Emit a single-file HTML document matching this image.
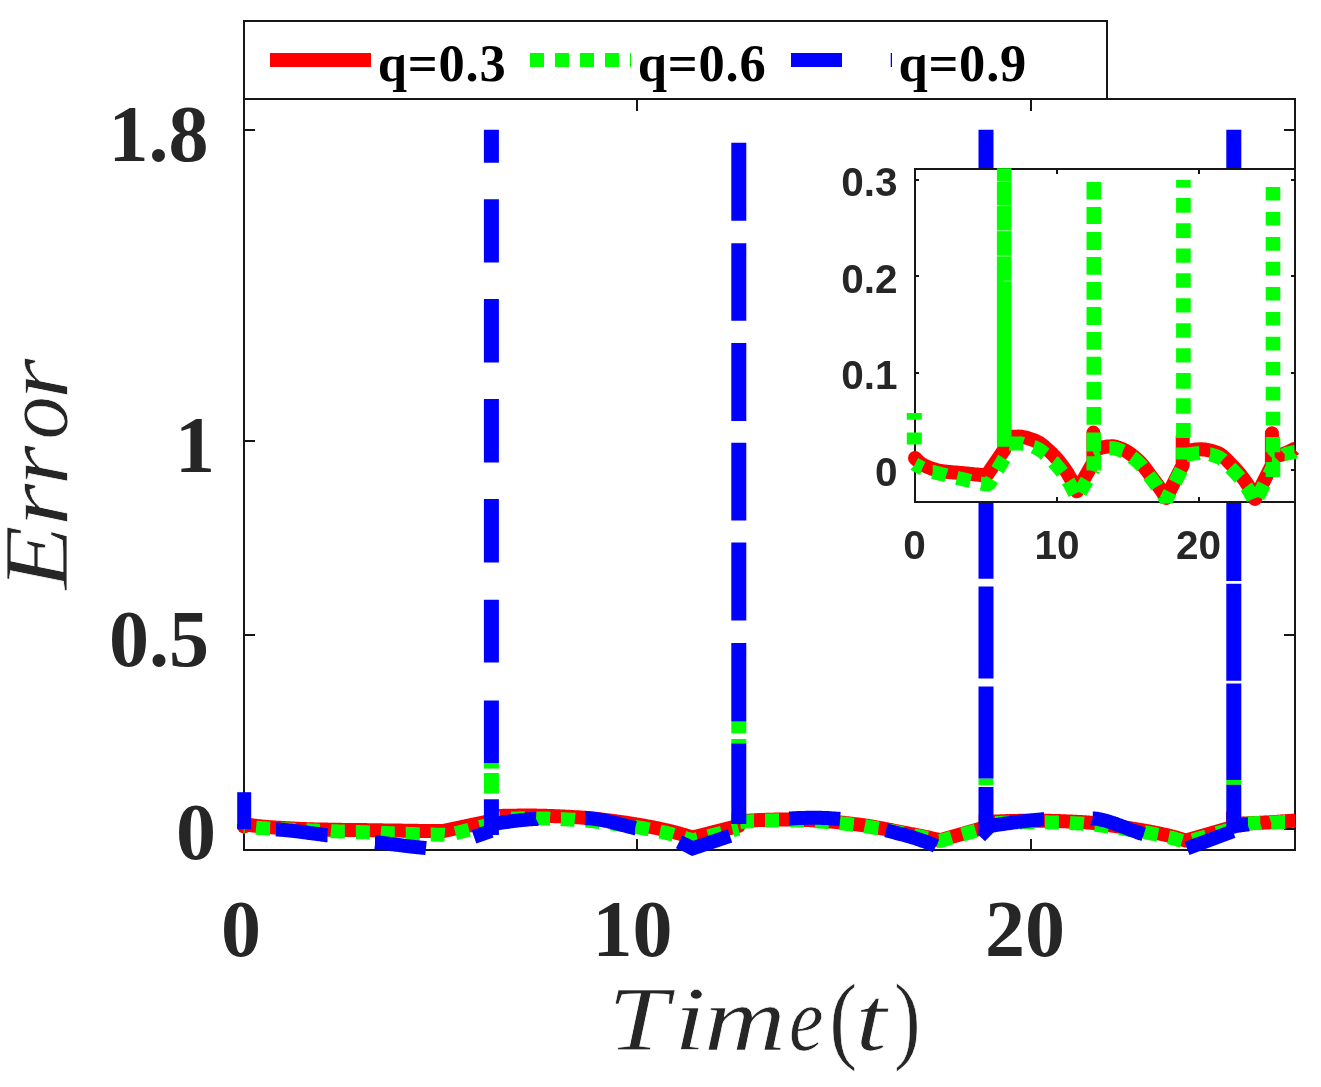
<!DOCTYPE html>
<html><head><meta charset="utf-8"><title>Error vs Time</title>
<style>html,body{margin:0;padding:0;background:#fff}svg{display:block}</style></head>
<body>
<svg width="1321" height="1087" viewBox="0 0 1321 1087">
<rect width="1321" height="1087" fill="#fff"/>
<rect x="244" y="99" width="1051.0" height="751.0" fill="none" stroke="#161616" stroke-width="2" shape-rendering="crispEdges"/>
<path d="M637,850 v-11 M637,99 v12 M1031,850 v-11 M1031,99 v12 M244,829 h11 M1295,829 h-11 M244,635 h11 M1295,635 h-11 M244,441 h11 M1295,441 h-11 M244,130 h11 M1295,130 h-11" stroke="#161616" stroke-width="2" fill="none" shape-rendering="crispEdges"/>
<g fill="none" stroke-linejoin="round">
<path d="M244.0,824.2 L245.0,824.3 L246.0,824.5 L247.0,824.6 L248.0,824.8 L249.0,824.9 L250.0,825.1 L251.0,825.2 L252.0,825.3 L253.0,825.5 L254.0,825.6 L255.0,825.7 L256.0,825.9 L257.0,826.0 L258.0,826.1 L259.0,826.2 L260.0,826.3 L261.0,826.4 L262.0,826.5 L263.0,826.6 L264.0,826.7 L265.0,826.8 L266.0,826.9 L267.0,827.0 L268.0,827.0 L269.0,827.1 L270.0,827.2 L271.0,827.3 L272.0,827.3 L273.0,827.4 L274.0,827.5 L275.0,827.5 L276.0,827.6 L277.0,827.7 L278.0,827.7 L279.0,827.8 L279.9,827.8 L280.9,827.9 L281.9,828.0 L282.9,828.0 L283.9,828.1 L284.9,828.1 L285.9,828.2 L286.9,828.2 L287.9,828.3 L288.9,828.3 L289.9,828.4 L290.9,828.4 L291.9,828.5 L292.9,828.5 L293.9,828.6 L294.9,828.6 L295.9,828.7 L296.9,828.7 L297.9,828.8 L298.9,828.8 L299.9,828.9 L300.9,828.9 L301.9,829.0 L302.9,829.0 L303.9,829.0 L304.9,829.1 L305.9,829.1 L306.9,829.2 L307.9,829.2 L308.9,829.2 L309.9,829.3 L310.9,829.3 L311.9,829.3 L312.9,829.3 L313.9,829.4 L314.9,829.4 L315.9,829.4 L316.9,829.4 L317.9,829.5 L318.9,829.5 L319.9,829.5 L320.9,829.5 L321.9,829.5 L322.9,829.6 L323.9,829.6 L324.9,829.6 L325.9,829.6 L326.9,829.6 L327.9,829.6 L328.9,829.7 L329.9,829.7 L330.9,829.7 L331.9,829.7 L332.9,829.7 L333.9,829.7 L334.9,829.8 L335.9,829.8 L336.9,829.8 L337.9,829.8 L338.9,829.8 L339.9,829.8 L340.9,829.8 L341.9,829.9 L342.9,829.9 L343.9,829.9 L344.9,829.9 L345.9,829.9 L346.9,829.9 L347.9,829.9 L348.9,829.9 L349.8,830.0 L350.8,830.0 L351.8,830.0 L352.8,830.0 L353.8,830.0 L354.8,830.0 L355.8,830.0 L356.8,830.0 L357.8,830.0 L358.8,830.1 L359.8,830.1 L360.8,830.1 L361.8,830.1 L362.8,830.1 L363.8,830.1 L364.8,830.1 L365.8,830.1 L366.8,830.1 L367.8,830.2 L368.8,830.2 L369.8,830.2 L370.8,830.2 L371.8,830.2 L372.8,830.2 L373.8,830.2 L374.8,830.2 L375.8,830.3 L376.8,830.3 L377.8,830.3 L378.8,830.3 L379.8,830.3 L380.8,830.3 L381.8,830.3 L382.8,830.4 L383.8,830.4 L384.8,830.4 L385.8,830.4 L386.8,830.4 L387.8,830.4 L388.8,830.4 L389.8,830.5 L390.8,830.5 L391.8,830.5 L392.8,830.5 L393.8,830.5 L394.8,830.5 L395.8,830.5 L396.8,830.6 L397.8,830.6 L398.8,830.6 L399.8,830.6 L400.8,830.6 L401.8,830.6 L402.8,830.7 L403.8,830.7 L404.8,830.7 L405.8,830.7 L406.8,830.7 L407.8,830.7 L408.8,830.7 L409.8,830.8 L410.8,830.8 L411.8,830.8 L412.8,830.8 L413.8,830.8 L414.8,830.8 L415.8,830.8 L416.8,830.8 L417.8,830.9 L418.8,830.9 L419.8,830.9 L420.7,830.9 L421.7,830.9 L422.7,830.9 L423.7,830.9 L424.7,830.9 L425.7,830.9 L426.7,831.0 L427.7,831.0 L428.7,831.0 L429.7,831.0 L430.7,831.0 L431.7,831.0 L432.7,831.0 L433.7,831.0 L434.7,831.0 L435.7,831.0 L436.7,831.1 L437.7,831.1 L438.7,831.1 L439.7,831.1 L440.7,831.1 L441.7,831.1 L442.7,831.1 L491.2,820.8 L491.2,812.3 L491.2,816.2 L492.3,816.1 L493.3,816.1 L494.3,816.1 L495.3,816.0 L496.3,816.0 L497.3,816.0 L498.3,816.0 L499.3,815.9 L500.3,815.9 L501.4,815.9 L502.4,815.9 L503.4,815.8 L504.4,815.8 L505.4,815.8 L506.4,815.8 L507.4,815.8 L508.4,815.7 L509.5,815.7 L510.5,815.7 L511.5,815.7 L512.5,815.7 L513.5,815.7 L514.5,815.7 L515.5,815.7 L516.5,815.7 L517.5,815.6 L518.6,815.6 L519.6,815.6 L520.6,815.6 L521.6,815.6 L522.6,815.6 L523.6,815.6 L524.6,815.6 L525.6,815.6 L526.7,815.6 L527.7,815.6 L528.7,815.6 L529.7,815.6 L530.7,815.6 L531.7,815.6 L532.7,815.6 L533.7,815.6 L534.8,815.6 L535.8,815.6 L536.8,815.6 L537.8,815.7 L538.8,815.7 L539.8,815.7 L540.8,815.7 L541.8,815.7 L542.8,815.7 L543.9,815.8 L544.9,815.8 L545.9,815.8 L546.9,815.9 L547.9,815.9 L548.9,815.9 L549.9,816.0 L550.9,816.0 L552.0,816.0 L553.0,816.1 L554.0,816.1 L555.0,816.2 L556.0,816.2 L557.0,816.2 L558.0,816.3 L559.0,816.3 L560.0,816.4 L561.1,816.4 L562.1,816.5 L563.1,816.5 L564.1,816.6 L565.1,816.6 L566.1,816.7 L567.1,816.7 L568.1,816.8 L569.2,816.8 L570.2,816.9 L571.2,816.9 L572.2,817.0 L573.2,817.1 L574.2,817.1 L575.2,817.2 L576.2,817.2 L577.2,817.3 L578.3,817.3 L579.3,817.4 L580.3,817.5 L581.3,817.5 L582.3,817.6 L583.3,817.7 L584.3,817.7 L585.3,817.8 L586.4,817.9 L587.4,818.0 L588.4,818.1 L589.4,818.2 L590.4,818.3 L591.4,818.4 L592.4,818.5 L593.4,818.6 L594.4,818.7 L595.5,818.8 L596.5,818.9 L597.5,819.0 L598.5,819.2 L599.5,819.3 L600.5,819.4 L601.5,819.5 L602.5,819.6 L603.6,819.8 L604.6,819.9 L605.6,820.0 L606.6,820.1 L607.6,820.3 L608.6,820.4 L609.6,820.5 L610.6,820.7 L611.6,820.8 L612.7,820.9 L613.7,821.1 L614.7,821.2 L615.7,821.3 L616.7,821.5 L617.7,821.6 L618.7,821.7 L619.7,821.9 L620.8,822.0 L621.8,822.2 L622.8,822.3 L623.8,822.4 L624.8,822.6 L625.8,822.7 L626.8,822.9 L627.8,823.0 L628.8,823.2 L629.9,823.3 L630.9,823.5 L631.9,823.7 L632.9,823.8 L633.9,824.0 L634.9,824.2 L635.9,824.3 L636.9,824.5 L638.0,824.7 L639.0,824.8 L640.0,825.0 L641.0,825.2 L642.0,825.4 L643.0,825.5 L644.0,825.7 L645.0,825.9 L646.0,826.1 L647.1,826.3 L648.1,826.5 L649.1,826.7 L650.1,826.8 L651.1,827.0 L652.1,827.2 L653.1,827.4 L654.1,827.6 L655.2,827.8 L656.2,828.0 L657.2,828.2 L658.2,828.4 L659.2,828.6 L660.2,828.9 L661.2,829.1 L662.2,829.3 L663.2,829.5 L664.3,829.8 L665.3,830.0 L666.3,830.2 L667.3,830.5 L668.3,830.7 L669.3,831.0 L670.3,831.2 L671.3,831.5 L672.4,831.7 L673.4,832.0 L674.4,832.2 L675.4,832.5 L676.4,832.8 L677.4,833.0 L678.4,833.3 L679.4,833.6 L680.4,833.9 L681.5,834.1 L682.5,834.4 L683.5,834.7 L684.5,835.0 L685.5,835.3 L686.5,835.6 L687.5,835.9 L688.5,836.3 L689.6,836.6 L690.6,836.9 L691.6,837.2 L692.6,837.5 L738.5,825.9 L738.5,814.0 L738.5,821.4 L739.5,821.3 L740.5,821.3 L741.5,821.2 L742.5,821.1 L743.6,821.0 L744.6,820.9 L745.6,820.9 L746.6,820.8 L747.6,820.7 L748.6,820.7 L749.6,820.6 L750.6,820.5 L751.7,820.5 L752.7,820.4 L753.7,820.4 L754.7,820.3 L755.7,820.2 L756.7,820.2 L757.7,820.1 L758.7,820.1 L759.8,820.1 L760.8,820.0 L761.8,820.0 L762.8,819.9 L763.8,819.9 L764.8,819.9 L765.8,819.8 L766.9,819.8 L767.9,819.8 L768.9,819.7 L769.9,819.7 L770.9,819.7 L771.9,819.7 L772.9,819.7 L773.9,819.6 L775.0,819.6 L776.0,819.6 L777.0,819.6 L778.0,819.6 L779.0,819.6 L780.0,819.5 L781.0,819.5 L782.1,819.5 L783.1,819.5 L784.1,819.5 L785.1,819.5 L786.1,819.5 L787.1,819.5 L788.1,819.5 L789.1,819.5 L790.2,819.5 L791.2,819.5 L792.2,819.5 L793.2,819.5 L794.2,819.5 L795.2,819.5 L796.2,819.6 L797.2,819.6 L798.3,819.6 L799.3,819.6 L800.3,819.7 L801.3,819.7 L802.3,819.8 L803.3,819.8 L804.3,819.9 L805.4,819.9 L806.4,820.0 L807.4,820.0 L808.4,820.1 L809.4,820.1 L810.4,820.2 L811.4,820.2 L812.4,820.3 L813.5,820.4 L814.5,820.4 L815.5,820.5 L816.5,820.5 L817.5,820.6 L818.5,820.6 L819.5,820.7 L820.6,820.8 L821.6,820.8 L822.6,820.9 L823.6,821.0 L824.6,821.1 L825.6,821.1 L826.6,821.2 L827.6,821.3 L828.7,821.4 L829.7,821.5 L830.7,821.5 L831.7,821.6 L832.7,821.7 L833.7,821.8 L834.7,821.9 L835.7,822.0 L836.8,822.1 L837.8,822.2 L838.8,822.3 L839.8,822.4 L840.8,822.5 L841.8,822.6 L842.8,822.7 L843.9,822.9 L844.9,823.0 L845.9,823.1 L846.9,823.2 L847.9,823.3 L848.9,823.4 L849.9,823.6 L850.9,823.7 L852.0,823.8 L853.0,823.9 L854.0,824.0 L855.0,824.2 L856.0,824.3 L857.0,824.4 L858.0,824.5 L859.1,824.7 L860.1,824.8 L861.1,824.9 L862.1,825.1 L863.1,825.2 L864.1,825.3 L865.1,825.5 L866.1,825.6 L867.2,825.8 L868.2,825.9 L869.2,826.1 L870.2,826.3 L871.2,826.4 L872.2,826.6 L873.2,826.8 L874.2,826.9 L875.3,827.1 L876.3,827.3 L877.3,827.5 L878.3,827.7 L879.3,827.9 L880.3,828.1 L881.3,828.2 L882.4,828.4 L883.4,828.6 L884.4,828.8 L885.4,829.0 L886.4,829.2 L887.4,829.4 L888.4,829.6 L889.4,829.8 L890.5,830.0 L891.5,830.2 L892.5,830.4 L893.5,830.6 L894.5,830.8 L895.5,831.0 L896.5,831.2 L897.5,831.4 L898.6,831.6 L899.6,831.8 L900.6,832.0 L901.6,832.2 L902.6,832.4 L903.6,832.6 L904.6,832.8 L905.7,833.0 L906.7,833.2 L907.7,833.4 L908.7,833.6 L909.7,833.8 L910.7,834.0 L911.7,834.2 L912.7,834.3 L913.8,834.5 L914.8,834.7 L915.8,834.9 L916.8,835.1 L917.8,835.3 L918.8,835.5 L919.8,835.7 L920.9,836.0 L921.9,836.2 L922.9,836.4 L923.9,836.6 L924.9,836.8 L925.9,837.0 L926.9,837.2 L927.9,837.5 L929.0,837.7 L930.0,837.9 L931.0,838.1 L932.0,838.4 L933.0,838.6 L934.0,838.8 L935.0,839.1 L936.0,839.3 L937.1,839.5 L938.1,839.8 L939.1,840.0 L940.1,840.3 L985.7,827.1 L985.7,815.8 L985.7,822.0 L986.7,822.0 L987.7,821.9 L988.7,821.8 L989.8,821.8 L990.8,821.7 L991.8,821.7 L992.8,821.6 L993.8,821.6 L994.8,821.6 L995.8,821.5 L996.8,821.5 L997.8,821.4 L998.8,821.4 L999.8,821.4 L1000.8,821.3 L1001.8,821.3 L1002.8,821.2 L1003.8,821.2 L1004.9,821.2 L1005.9,821.1 L1006.9,821.1 L1007.9,821.1 L1008.9,821.1 L1009.9,821.0 L1010.9,821.0 L1011.9,821.0 L1012.9,821.0 L1013.9,820.9 L1014.9,820.9 L1015.9,820.9 L1016.9,820.9 L1017.9,820.9 L1018.9,820.8 L1020.0,820.8 L1021.0,820.8 L1022.0,820.8 L1023.0,820.8 L1024.0,820.8 L1025.0,820.8 L1026.0,820.7 L1027.0,820.7 L1028.0,820.7 L1029.0,820.7 L1030.0,820.7 L1031.0,820.7 L1032.0,820.7 L1033.0,820.7 L1034.0,820.7 L1035.1,820.7 L1036.1,820.7 L1037.1,820.7 L1038.1,820.7 L1039.1,820.7 L1040.1,820.7 L1041.1,820.7 L1042.1,820.7 L1043.1,820.7 L1044.1,820.7 L1045.1,820.7 L1046.1,820.8 L1047.1,820.8 L1048.1,820.8 L1049.1,820.8 L1050.2,820.8 L1051.2,820.9 L1052.2,820.9 L1053.2,820.9 L1054.2,820.9 L1055.2,821.0 L1056.2,821.0 L1057.2,821.0 L1058.2,821.1 L1059.2,821.1 L1060.2,821.1 L1061.2,821.2 L1062.2,821.2 L1063.2,821.2 L1064.2,821.3 L1065.2,821.3 L1066.3,821.4 L1067.3,821.4 L1068.3,821.4 L1069.3,821.5 L1070.3,821.5 L1071.3,821.6 L1072.3,821.6 L1073.3,821.7 L1074.3,821.7 L1075.3,821.8 L1076.3,821.8 L1077.3,821.9 L1078.3,821.9 L1079.3,821.9 L1080.3,822.0 L1081.4,822.0 L1082.4,822.1 L1083.4,822.2 L1084.4,822.2 L1085.4,822.3 L1086.4,822.4 L1087.4,822.5 L1088.4,822.6 L1089.4,822.6 L1090.4,822.7 L1091.4,822.8 L1092.4,822.9 L1093.4,823.0 L1094.4,823.2 L1095.4,823.3 L1096.5,823.4 L1097.5,823.5 L1098.5,823.6 L1099.5,823.8 L1100.5,823.9 L1101.5,824.0 L1102.5,824.2 L1103.5,824.3 L1104.5,824.4 L1105.5,824.6 L1106.5,824.7 L1107.5,824.9 L1108.5,825.0 L1109.5,825.2 L1110.5,825.3 L1111.6,825.5 L1112.6,825.6 L1113.6,825.8 L1114.6,825.9 L1115.6,826.1 L1116.6,826.2 L1117.6,826.4 L1118.6,826.5 L1119.6,826.7 L1120.6,826.8 L1121.6,827.0 L1122.6,827.1 L1123.6,827.3 L1124.6,827.4 L1125.6,827.6 L1126.7,827.7 L1127.7,827.9 L1128.7,828.0 L1129.7,828.2 L1130.7,828.4 L1131.7,828.5 L1132.7,828.7 L1133.7,828.8 L1134.7,829.0 L1135.7,829.2 L1136.7,829.3 L1137.7,829.5 L1138.7,829.7 L1139.7,829.8 L1140.7,830.0 L1141.7,830.2 L1142.8,830.3 L1143.8,830.5 L1144.8,830.7 L1145.8,830.9 L1146.8,831.1 L1147.8,831.3 L1148.8,831.4 L1149.8,831.6 L1150.8,831.8 L1151.8,832.0 L1152.8,832.2 L1153.8,832.4 L1154.8,832.6 L1155.8,832.8 L1156.8,833.0 L1157.9,833.2 L1158.9,833.4 L1159.9,833.6 L1160.9,833.8 L1161.9,834.1 L1162.9,834.3 L1163.9,834.5 L1164.9,834.7 L1165.9,835.0 L1166.9,835.2 L1167.9,835.4 L1168.9,835.6 L1169.9,835.9 L1170.9,836.1 L1171.9,836.4 L1173.0,836.7 L1174.0,836.9 L1175.0,837.2 L1176.0,837.5 L1177.0,837.8 L1178.0,838.1 L1179.0,838.4 L1180.0,838.7 L1181.0,839.0 L1182.0,839.4 L1183.0,839.7 L1184.0,840.0 L1185.0,840.3 L1186.0,840.6 L1233.0,827.1 L1233.0,814.2 L1233.0,823.8 L1233.3,823.8 L1233.6,823.7 L1233.9,823.7 L1234.2,823.7 L1234.5,823.7 L1234.8,823.7 L1235.2,823.7 L1235.5,823.7 L1235.8,823.7 L1236.1,823.7 L1236.4,823.7 L1236.7,823.7 L1237.0,823.7 L1237.3,823.7 L1237.6,823.6 L1238.0,823.6 L1238.3,823.6 L1238.6,823.6 L1238.9,823.6 L1239.2,823.6 L1239.5,823.6 L1239.8,823.6 L1240.1,823.6 L1240.5,823.6 L1240.8,823.6 L1241.1,823.5 L1241.4,823.5 L1241.7,823.5 L1242.0,823.5 L1242.3,823.5 L1242.6,823.5 L1242.9,823.5 L1243.3,823.5 L1243.6,823.5 L1243.9,823.5 L1244.2,823.4 L1244.5,823.4 L1244.8,823.4 L1245.1,823.4 L1245.4,823.4 L1245.8,823.4 L1246.1,823.4 L1246.4,823.4 L1246.7,823.4 L1247.0,823.4 L1247.3,823.3 L1247.6,823.3 L1247.9,823.3 L1248.2,823.3 L1248.6,823.3 L1248.9,823.3 L1249.2,823.3 L1249.5,823.3 L1249.8,823.2 L1250.1,823.2 L1250.4,823.2 L1250.7,823.2 L1251.1,823.2 L1251.4,823.2 L1251.7,823.2 L1252.0,823.2 L1252.3,823.2 L1252.6,823.1 L1252.9,823.1 L1253.2,823.1 L1253.5,823.1 L1253.9,823.1 L1254.2,823.1 L1254.5,823.1 L1254.8,823.1 L1255.1,823.0 L1255.4,823.0 L1255.7,823.0 L1256.0,823.0 L1256.4,823.0 L1256.7,823.0 L1257.0,823.0 L1257.3,822.9 L1257.6,822.9 L1257.9,822.9 L1258.2,822.9 L1258.5,822.9 L1258.8,822.9 L1259.2,822.9 L1259.5,822.8 L1259.8,822.8 L1260.1,822.8 L1260.4,822.8 L1260.7,822.8 L1261.0,822.8 L1261.3,822.8 L1261.6,822.7 L1262.0,822.7 L1262.3,822.7 L1262.6,822.7 L1262.9,822.7 L1263.2,822.7 L1263.5,822.7 L1263.8,822.6 L1264.1,822.6 L1264.5,822.6 L1264.8,822.6 L1265.1,822.6 L1265.4,822.6 L1265.7,822.5 L1266.0,822.5 L1266.3,822.5 L1266.6,822.5 L1266.9,822.5 L1267.3,822.5 L1267.6,822.4 L1267.9,822.4 L1268.2,822.4 L1268.5,822.4 L1268.8,822.4 L1269.1,822.4 L1269.4,822.3 L1269.8,822.3 L1270.1,822.3 L1270.4,822.3 L1270.7,822.3 L1271.0,822.3 L1271.3,822.2 L1271.6,822.2 L1271.9,822.2 L1272.2,822.2 L1272.6,822.2 L1272.9,822.1 L1273.2,822.1 L1273.5,822.1 L1273.8,822.1 L1274.1,822.1 L1274.4,822.0 L1274.7,822.0 L1275.1,822.0 L1275.4,822.0 L1275.7,822.0 L1276.0,821.9 L1276.3,821.9 L1276.6,821.9 L1276.9,821.9 L1277.2,821.9 L1277.5,821.8 L1277.9,821.8 L1278.2,821.8 L1278.5,821.8 L1278.8,821.8 L1279.1,821.7 L1279.4,821.7 L1279.7,821.7 L1280.0,821.7 L1280.4,821.7 L1280.7,821.6 L1281.0,821.6 L1281.3,821.6 L1281.6,821.6 L1281.9,821.6 L1282.2,821.5 L1282.5,821.5 L1282.8,821.5 L1283.2,821.5 L1283.5,821.4 L1283.8,821.4 L1284.1,821.4 L1284.4,821.4 L1284.7,821.4 L1285.0,821.3 L1285.3,821.3 L1285.6,821.3 L1286.0,821.3 L1286.3,821.2 L1286.6,821.2 L1286.9,821.2 L1287.2,821.2 L1287.5,821.2 L1287.8,821.1 L1288.1,821.1 L1288.5,821.1 L1288.8,821.1 L1289.1,821.0 L1289.4,821.0 L1289.7,821.0 L1290.0,821.0 L1290.3,820.9 L1290.6,820.9 L1290.9,820.9 L1291.3,820.9 L1291.6,820.8 L1291.9,820.8 L1292.2,820.8 L1292.5,820.8 L1292.8,820.7 L1293.1,820.7 L1293.4,820.7 L1293.8,820.7 L1294.1,820.6 L1294.4,820.6 L1294.7,820.6 L1295.0,820.6" stroke="#ff0000" stroke-width="14"/>
<circle cx="244" cy="826.5" r="7" fill="#ff0000" stroke="none"/>
<path d="M244.0,826.7 L245.0,826.8 L246.1,826.9 L247.1,826.9 L248.1,827.0 L249.1,827.1 L250.2,827.2 L251.2,827.3 L252.2,827.4 L253.3,827.5 L254.3,827.6 L255.3,827.6 L256.3,827.7 L257.4,827.8 L258.4,827.9 L259.4,828.0 L260.5,828.0 L261.5,828.1 L262.5,828.2 L263.5,828.3 L264.6,828.3 L265.6,828.4 L266.6,828.5 L267.6,828.5 L268.7,828.6 L269.7,828.7 L270.7,828.7 L271.8,828.8 L272.8,828.9 L273.8,828.9 L274.8,829.0 L275.9,829.0 L276.9,829.1 L277.9,829.1 L279.0,829.2 L280.0,829.2 L281.0,829.3 L282.0,829.3 L283.1,829.4 L284.1,829.4 L285.1,829.5 L286.2,829.5 L287.2,829.5 L288.2,829.6 L289.2,829.6 L290.3,829.7 L291.3,829.7 L292.3,829.7 L293.4,829.8 L294.4,829.8 L295.4,829.9 L296.4,829.9 L297.5,829.9 L298.5,830.0 L299.5,830.0 L300.6,830.0 L301.6,830.1 L302.6,830.1 L303.6,830.2 L304.7,830.2 L305.7,830.2 L306.7,830.3 L307.8,830.3 L308.8,830.3 L309.8,830.4 L310.8,830.4 L311.9,830.4 L312.9,830.5 L313.9,830.5 L314.9,830.6 L316.0,830.6 L317.0,830.6 L318.0,830.7 L319.1,830.7 L320.1,830.7 L321.1,830.8 L322.1,830.8 L323.2,830.9 L324.2,830.9 L325.2,830.9 L326.3,831.0 L327.3,831.0 L328.3,831.0 L329.3,831.1 L330.4,831.1 L331.4,831.2 L332.4,831.2 L333.5,831.2 L334.5,831.3 L335.5,831.3 L336.5,831.3 L337.6,831.4 L338.6,831.4 L339.6,831.4 L340.7,831.5 L341.7,831.5 L342.7,831.5 L343.7,831.6 L344.8,831.6 L345.8,831.6 L346.8,831.7 L347.9,831.7 L348.9,831.8 L349.9,831.8 L350.9,831.8 L352.0,831.9 L353.0,831.9 L354.0,831.9 L355.1,832.0 L356.1,832.0 L357.1,832.0 L358.1,832.1 L359.2,832.1 L360.2,832.1 L361.2,832.2 L362.2,832.2 L363.3,832.2 L364.3,832.3 L365.3,832.3 L366.4,832.3 L367.4,832.4 L368.4,832.4 L369.4,832.5 L370.5,832.5 L371.5,832.5 L372.5,832.6 L373.6,832.6 L374.6,832.6 L375.6,832.7 L376.6,832.7 L377.7,832.7 L378.7,832.8 L379.7,832.8 L380.8,832.8 L381.8,832.9 L382.8,832.9 L383.8,833.0 L384.9,833.0 L385.9,833.0 L386.9,833.1 L388.0,833.1 L389.0,833.2 L390.0,833.2 L391.0,833.2 L392.1,833.3 L393.1,833.3 L394.1,833.4 L395.2,833.4 L396.2,833.4 L397.2,833.5 L398.2,833.5 L399.3,833.6 L400.3,833.6 L401.3,833.6 L402.3,833.7 L403.4,833.7 L404.4,833.8 L405.4,833.8 L406.5,833.8 L407.5,833.9 L408.5,833.9 L409.5,834.0 L410.6,834.0 L411.6,834.0 L412.6,834.1 L413.7,834.1 L414.7,834.1 L415.7,834.2 L416.7,834.2 L417.8,834.2 L418.8,834.3 L419.8,834.3 L420.9,834.3 L421.9,834.4 L422.9,834.4 L423.9,834.4 L425.0,834.4 L426.0,834.5 L427.0,834.5 L428.1,834.5 L429.1,834.5 L430.1,834.6 L431.1,834.6 L432.2,834.6 L433.2,834.6 L434.2,834.6 L435.3,834.7 L436.3,834.7 L437.3,834.7 L438.3,834.7 L439.4,834.8 L440.4,834.8 L441.4,834.8 L442.5,834.8 L443.5,834.8 L444.5,834.8 L445.5,834.9 L446.6,834.9 L447.6,834.9 L448.6,834.9 L491.2,824.3" stroke="#00ff00" stroke-width="14" stroke-dasharray="14 11" stroke-dashoffset="12.9" stroke-linejoin="bevel"/>
<path d="M491.2,818.9 L492.3,818.9 L493.3,818.8 L494.3,818.8 L495.3,818.8 L496.3,818.7 L497.3,818.7 L498.3,818.7 L499.3,818.6 L500.3,818.6 L501.4,818.6 L502.4,818.6 L503.4,818.5 L504.4,818.5 L505.4,818.5 L506.4,818.5 L507.4,818.5 L508.4,818.5 L509.5,818.4 L510.5,818.4 L511.5,818.4 L512.5,818.4 L513.5,818.4 L514.5,818.4 L515.5,818.4 L516.5,818.4 L517.5,818.4 L518.6,818.4 L519.6,818.3 L520.6,818.3 L521.6,818.3 L522.6,818.3 L523.6,818.3 L524.6,818.3 L525.6,818.3 L526.7,818.3 L527.7,818.3 L528.7,818.3 L529.7,818.3 L530.7,818.3 L531.7,818.3 L532.7,818.3 L533.7,818.3 L534.8,818.3 L535.8,818.3 L536.8,818.4 L537.8,818.4 L538.8,818.4 L539.8,818.4 L540.8,818.4 L541.8,818.4 L542.8,818.5 L543.9,818.5 L544.9,818.5 L545.9,818.5 L546.9,818.6 L547.9,818.6 L548.9,818.6 L549.9,818.7 L550.9,818.7 L552.0,818.7 L553.0,818.8 L554.0,818.8 L555.0,818.9 L556.0,818.9 L557.0,819.0 L558.0,819.0 L559.0,819.0 L560.0,819.1 L561.1,819.1 L562.1,819.2 L563.1,819.2 L564.1,819.3 L565.1,819.3 L566.1,819.4 L567.1,819.4 L568.1,819.5 L569.2,819.6 L570.2,819.6 L571.2,819.7 L572.2,819.7 L573.2,819.8 L574.2,819.8 L575.2,819.9 L576.2,819.9 L577.2,820.0 L578.3,820.1 L579.3,820.1 L580.3,820.2 L581.3,820.2 L582.3,820.3 L583.3,820.4 L584.3,820.5 L585.3,820.5 L586.4,820.6 L587.4,820.7 L588.4,820.8 L589.4,820.9 L590.4,821.0 L591.4,821.1 L592.4,821.2 L593.4,821.3 L594.4,821.4 L595.5,821.5 L596.5,821.6 L597.5,821.8 L598.5,821.9 L599.5,822.0 L600.5,822.1 L601.5,822.2 L602.5,822.4 L603.6,822.5 L604.6,822.6 L605.6,822.7 L606.6,822.9 L607.6,823.0 L608.6,823.1 L609.6,823.3 L610.6,823.4 L611.6,823.5 L612.7,823.7 L613.7,823.8 L614.7,823.9 L615.7,824.1 L616.7,824.2 L617.7,824.3 L618.7,824.5 L619.7,824.6 L620.8,824.7 L621.8,824.9 L622.8,825.0 L623.8,825.2 L624.8,825.3 L625.8,825.5 L626.8,825.6 L627.8,825.8 L628.8,825.9 L629.9,826.1 L630.9,826.2 L631.9,826.4 L632.9,826.5 L633.9,826.7 L634.9,826.9 L635.9,827.0 L636.9,827.2 L638.0,827.4 L639.0,827.6 L640.0,827.7 L641.0,827.9 L642.0,828.1 L643.0,828.3 L644.0,828.4 L645.0,828.6 L646.0,828.8 L647.1,829.0 L648.1,829.2 L649.1,829.4 L650.1,829.6 L651.1,829.8 L652.1,829.9 L653.1,830.1 L654.1,830.3 L655.2,830.5 L656.2,830.7 L657.2,830.9 L658.2,831.1 L659.2,831.4 L660.2,831.6 L661.2,831.8 L662.2,832.0 L663.2,832.2 L664.3,832.5 L665.3,832.7 L666.3,832.9 L667.3,833.2 L668.3,833.4 L669.3,833.7 L670.3,833.9 L671.3,834.2 L672.4,834.4 L673.4,834.7 L674.4,835.0 L675.4,835.2 L676.4,835.5 L677.4,835.8 L678.4,836.0 L679.4,836.3 L680.4,836.6 L681.5,836.9 L682.5,837.2 L683.5,837.5 L684.5,837.8 L685.5,838.1 L686.5,838.4 L687.5,838.7 L688.5,839.0 L689.6,839.3 L690.6,839.6 L691.6,839.9 L692.6,840.3 L738.5,828.6" stroke="#00ff00" stroke-width="14" stroke-dasharray="14 11" stroke-dashoffset="5.2" stroke-linejoin="bevel"/>
<path d="M738.5,822.2 L739.5,822.1 L740.5,822.0 L741.5,821.9 L742.5,821.9 L743.6,821.8 L744.6,821.7 L745.6,821.6 L746.6,821.6 L747.6,821.5 L748.6,821.4 L749.6,821.4 L750.6,821.3 L751.7,821.2 L752.7,821.2 L753.7,821.1 L754.7,821.1 L755.7,821.0 L756.7,821.0 L757.7,820.9 L758.7,820.9 L759.8,820.8 L760.8,820.8 L761.8,820.8 L762.8,820.7 L763.8,820.7 L764.8,820.6 L765.8,820.6 L766.9,820.6 L767.9,820.6 L768.9,820.5 L769.9,820.5 L770.9,820.5 L771.9,820.5 L772.9,820.4 L773.9,820.4 L775.0,820.4 L776.0,820.4 L777.0,820.4 L778.0,820.3 L779.0,820.3 L780.0,820.3 L781.0,820.3 L782.1,820.3 L783.1,820.3 L784.1,820.3 L785.1,820.3 L786.1,820.3 L787.1,820.3 L788.1,820.3 L789.1,820.3 L790.2,820.3 L791.2,820.3 L792.2,820.3 L793.2,820.3 L794.2,820.3 L795.2,820.3 L796.2,820.3 L797.2,820.4 L798.3,820.4 L799.3,820.4 L800.3,820.5 L801.3,820.5 L802.3,820.5 L803.3,820.6 L804.3,820.6 L805.4,820.7 L806.4,820.7 L807.4,820.8 L808.4,820.8 L809.4,820.9 L810.4,821.0 L811.4,821.0 L812.4,821.1 L813.5,821.1 L814.5,821.2 L815.5,821.2 L816.5,821.3 L817.5,821.4 L818.5,821.4 L819.5,821.5 L820.6,821.5 L821.6,821.6 L822.6,821.7 L823.6,821.8 L824.6,821.8 L825.6,821.9 L826.6,822.0 L827.6,822.1 L828.7,822.1 L829.7,822.2 L830.7,822.3 L831.7,822.4 L832.7,822.5 L833.7,822.6 L834.7,822.7 L835.7,822.8 L836.8,822.9 L837.8,823.0 L838.8,823.1 L839.8,823.2 L840.8,823.3 L841.8,823.4 L842.8,823.5 L843.9,823.6 L844.9,823.7 L845.9,823.9 L846.9,824.0 L847.9,824.1 L848.9,824.2 L849.9,824.3 L850.9,824.4 L852.0,824.6 L853.0,824.7 L854.0,824.8 L855.0,824.9 L856.0,825.1 L857.0,825.2 L858.0,825.3 L859.1,825.4 L860.1,825.6 L861.1,825.7 L862.1,825.8 L863.1,826.0 L864.1,826.1 L865.1,826.3 L866.1,826.4 L867.2,826.6 L868.2,826.7 L869.2,826.9 L870.2,827.0 L871.2,827.2 L872.2,827.4 L873.2,827.6 L874.2,827.7 L875.3,827.9 L876.3,828.1 L877.3,828.3 L878.3,828.5 L879.3,828.6 L880.3,828.8 L881.3,829.0 L882.4,829.2 L883.4,829.4 L884.4,829.6 L885.4,829.8 L886.4,830.0 L887.4,830.2 L888.4,830.4 L889.4,830.6 L890.5,830.8 L891.5,831.0 L892.5,831.2 L893.5,831.4 L894.5,831.6 L895.5,831.8 L896.5,832.0 L897.5,832.2 L898.6,832.4 L899.6,832.6 L900.6,832.8 L901.6,833.0 L902.6,833.2 L903.6,833.4 L904.6,833.6 L905.7,833.8 L906.7,834.0 L907.7,834.2 L908.7,834.3 L909.7,834.5 L910.7,834.7 L911.7,834.9 L912.7,835.1 L913.8,835.3 L914.8,835.5 L915.8,835.7 L916.8,835.9 L917.8,836.1 L918.8,836.3 L919.8,836.5 L920.9,836.7 L921.9,836.9 L922.9,837.1 L923.9,837.4 L924.9,837.6 L925.9,837.8 L926.9,838.0 L927.9,838.2 L929.0,838.5 L930.0,838.7 L931.0,838.9 L932.0,839.1 L933.0,839.4 L934.0,839.6 L935.0,839.8 L936.0,840.1 L937.1,840.3 L938.1,840.6 L939.1,840.8 L940.1,841.0 L985.7,827.8" stroke="#00ff00" stroke-width="14" stroke-dasharray="14 11" stroke-dashoffset="23.4" stroke-linejoin="bevel"/>
<path d="M985.7,823.6 L986.7,823.5 L987.7,823.5 L988.7,823.4 L989.8,823.3 L990.8,823.3 L991.8,823.2 L992.8,823.2 L993.8,823.2 L994.8,823.1 L995.8,823.1 L996.8,823.0 L997.8,823.0 L998.8,822.9 L999.8,822.9 L1000.8,822.9 L1001.8,822.8 L1002.8,822.8 L1003.8,822.8 L1004.9,822.7 L1005.9,822.7 L1006.9,822.7 L1007.9,822.6 L1008.9,822.6 L1009.9,822.6 L1010.9,822.6 L1011.9,822.5 L1012.9,822.5 L1013.9,822.5 L1014.9,822.5 L1015.9,822.4 L1016.9,822.4 L1017.9,822.4 L1018.9,822.4 L1020.0,822.4 L1021.0,822.4 L1022.0,822.3 L1023.0,822.3 L1024.0,822.3 L1025.0,822.3 L1026.0,822.3 L1027.0,822.3 L1028.0,822.3 L1029.0,822.3 L1030.0,822.3 L1031.0,822.3 L1032.0,822.3 L1033.0,822.3 L1034.0,822.2 L1035.1,822.2 L1036.1,822.2 L1037.1,822.2 L1038.1,822.2 L1039.1,822.2 L1040.1,822.3 L1041.1,822.3 L1042.1,822.3 L1043.1,822.3 L1044.1,822.3 L1045.1,822.3 L1046.1,822.3 L1047.1,822.3 L1048.1,822.4 L1049.1,822.4 L1050.2,822.4 L1051.2,822.4 L1052.2,822.4 L1053.2,822.5 L1054.2,822.5 L1055.2,822.5 L1056.2,822.6 L1057.2,822.6 L1058.2,822.6 L1059.2,822.6 L1060.2,822.7 L1061.2,822.7 L1062.2,822.8 L1063.2,822.8 L1064.2,822.8 L1065.2,822.9 L1066.3,822.9 L1067.3,823.0 L1068.3,823.0 L1069.3,823.0 L1070.3,823.1 L1071.3,823.1 L1072.3,823.2 L1073.3,823.2 L1074.3,823.3 L1075.3,823.3 L1076.3,823.4 L1077.3,823.4 L1078.3,823.5 L1079.3,823.5 L1080.3,823.6 L1081.4,823.6 L1082.4,823.7 L1083.4,823.7 L1084.4,823.8 L1085.4,823.9 L1086.4,823.9 L1087.4,824.0 L1088.4,824.1 L1089.4,824.2 L1090.4,824.3 L1091.4,824.4 L1092.4,824.5 L1093.4,824.6 L1094.4,824.7 L1095.4,824.8 L1096.5,824.9 L1097.5,825.1 L1098.5,825.2 L1099.5,825.3 L1100.5,825.5 L1101.5,825.6 L1102.5,825.7 L1103.5,825.9 L1104.5,826.0 L1105.5,826.1 L1106.5,826.3 L1107.5,826.4 L1108.5,826.6 L1109.5,826.7 L1110.5,826.9 L1111.6,827.0 L1112.6,827.2 L1113.6,827.3 L1114.6,827.5 L1115.6,827.6 L1116.6,827.8 L1117.6,827.9 L1118.6,828.1 L1119.6,828.2 L1120.6,828.4 L1121.6,828.5 L1122.6,828.7 L1123.6,828.8 L1124.6,829.0 L1125.6,829.1 L1126.7,829.3 L1127.7,829.5 L1128.7,829.6 L1129.7,829.8 L1130.7,829.9 L1131.7,830.1 L1132.7,830.2 L1133.7,830.4 L1134.7,830.6 L1135.7,830.7 L1136.7,830.9 L1137.7,831.0 L1138.7,831.2 L1139.7,831.4 L1140.7,831.6 L1141.7,831.7 L1142.8,831.9 L1143.8,832.1 L1144.8,832.3 L1145.8,832.4 L1146.8,832.6 L1147.8,832.8 L1148.8,833.0 L1149.8,833.2 L1150.8,833.4 L1151.8,833.6 L1152.8,833.8 L1153.8,834.0 L1154.8,834.2 L1155.8,834.4 L1156.8,834.6 L1157.9,834.8 L1158.9,835.0 L1159.9,835.2 L1160.9,835.4 L1161.9,835.6 L1162.9,835.8 L1163.9,836.1 L1164.9,836.3 L1165.9,836.5 L1166.9,836.7 L1167.9,837.0 L1168.9,837.2 L1169.9,837.4 L1170.9,837.7 L1171.9,838.0 L1173.0,838.2 L1174.0,838.5 L1175.0,838.8 L1176.0,839.1 L1177.0,839.4 L1178.0,839.7 L1179.0,840.0 L1180.0,840.3 L1181.0,840.6 L1182.0,840.9 L1183.0,841.2 L1184.0,841.6 L1185.0,841.9 L1186.0,842.2 L1233.0,828.6" stroke="#00ff00" stroke-width="14" stroke-dasharray="14 11" stroke-dashoffset="15.7" stroke-linejoin="bevel"/>
<path d="M1233.0,824.1 L1233.3,824.1 L1233.6,824.1 L1233.9,824.1 L1234.2,824.1 L1234.5,824.1 L1234.8,824.1 L1235.2,824.0 L1235.5,824.0 L1235.8,824.0 L1236.1,824.0 L1236.4,824.0 L1236.7,824.0 L1237.0,823.9 L1237.3,823.9 L1237.6,823.9 L1238.0,823.9 L1238.3,823.9 L1238.6,823.9 L1238.9,823.9 L1239.2,823.8 L1239.5,823.8 L1239.8,823.8 L1240.1,823.8 L1240.5,823.8 L1240.8,823.8 L1241.1,823.8 L1241.4,823.7 L1241.7,823.7 L1242.0,823.7 L1242.3,823.7 L1242.6,823.7 L1242.9,823.7 L1243.3,823.7 L1243.6,823.6 L1243.9,823.6 L1244.2,823.6 L1244.5,823.6 L1244.8,823.6 L1245.1,823.6 L1245.4,823.6 L1245.8,823.5 L1246.1,823.5 L1246.4,823.5 L1246.7,823.5 L1247.0,823.5 L1247.3,823.5 L1247.6,823.5 L1247.9,823.4 L1248.2,823.4 L1248.6,823.4 L1248.9,823.4 L1249.2,823.4 L1249.5,823.4 L1249.8,823.4 L1250.1,823.3 L1250.4,823.3 L1250.7,823.3 L1251.1,823.3 L1251.4,823.3 L1251.7,823.3 L1252.0,823.3 L1252.3,823.3 L1252.6,823.2 L1252.9,823.2 L1253.2,823.2 L1253.5,823.2 L1253.9,823.2 L1254.2,823.2 L1254.5,823.2 L1254.8,823.2 L1255.1,823.1 L1255.4,823.1 L1255.7,823.1 L1256.0,823.1 L1256.4,823.1 L1256.7,823.1 L1257.0,823.1 L1257.3,823.1 L1257.6,823.0 L1257.9,823.0 L1258.2,823.0 L1258.5,823.0 L1258.8,823.0 L1259.2,823.0 L1259.5,823.0 L1259.8,823.0 L1260.1,822.9 L1260.4,822.9 L1260.7,822.9 L1261.0,822.9 L1261.3,822.9 L1261.6,822.9 L1262.0,822.9 L1262.3,822.9 L1262.6,822.9 L1262.9,822.8 L1263.2,822.8 L1263.5,822.8 L1263.8,822.8 L1264.1,822.8 L1264.5,822.8 L1264.8,822.8 L1265.1,822.8 L1265.4,822.8 L1265.7,822.7 L1266.0,822.7 L1266.3,822.7 L1266.6,822.7 L1266.9,822.7 L1267.3,822.7 L1267.6,822.7 L1267.9,822.7 L1268.2,822.7 L1268.5,822.6 L1268.8,822.6 L1269.1,822.6 L1269.4,822.6 L1269.8,822.6 L1270.1,822.6 L1270.4,822.6 L1270.7,822.6 L1271.0,822.6 L1271.3,822.5 L1271.6,822.5 L1271.9,822.5 L1272.2,822.5 L1272.6,822.5 L1272.9,822.5 L1273.2,822.5 L1273.5,822.5 L1273.8,822.5 L1274.1,822.4 L1274.4,822.4 L1274.7,822.4 L1275.1,822.4 L1275.4,822.4 L1275.7,822.4 L1276.0,822.4 L1276.3,822.4 L1276.6,822.4 L1276.9,822.4 L1277.2,822.3 L1277.5,822.3 L1277.9,822.3 L1278.2,822.3 L1278.5,822.3 L1278.8,822.3 L1279.1,822.3 L1279.4,822.3 L1279.7,822.3 L1280.0,822.2 L1280.4,822.2 L1280.7,822.2 L1281.0,822.2 L1281.3,822.2 L1281.6,822.2 L1281.9,822.2 L1282.2,822.2 L1282.5,822.2 L1282.8,822.2 L1283.2,822.2 L1283.5,822.1 L1283.8,822.1 L1284.1,822.1 L1284.4,822.1 L1284.7,822.1 L1285.0,822.1 L1285.3,822.1 L1285.6,822.1 L1286.0,822.1 L1286.3,822.1 L1286.6,822.0 L1286.9,822.0 L1287.2,822.0 L1287.5,822.0 L1287.8,822.0 L1288.1,822.0 L1288.5,822.0 L1288.8,822.0 L1289.1,822.0 L1289.4,822.0 L1289.7,822.0 L1290.0,822.0 L1290.3,821.9 L1290.6,821.9 L1290.9,821.9 L1291.3,821.9 L1291.6,821.9 L1291.9,821.9 L1292.2,821.9 L1292.5,821.9 L1292.8,821.9 L1293.1,821.9 L1293.4,821.9 L1293.8,821.8 L1294.1,821.8 L1294.4,821.8 L1294.7,821.8 L1295.0,821.8" stroke="#00ff00" stroke-width="14" stroke-dasharray="14 11" stroke-dashoffset="11.6" stroke-linejoin="bevel"/>
<path d="M491.4,763 V768.6" stroke="#00ff00" stroke-width="15"/>
<path d="M491.4,773 V793.6" stroke="#00ff00" stroke-width="15"/>
<path d="M491.4,799 V800.2" stroke="#00ff00" stroke-width="15"/>
<path d="M738.8,721.4 V733.4" stroke="#00ff00" stroke-width="15"/>
<path d="M738.8,739 V743.8" stroke="#00ff00" stroke-width="15"/>
<path d="M986.0,778.5 V785.3" stroke="#00ff00" stroke-width="15"/>
<path d="M1233.8,780 V784.8" stroke="#00ff00" stroke-width="15"/>
<path d="M276.0,829.4 L276.3,829.4 L277.3,829.5 L278.3,829.6 L279.2,829.6 L280.2,829.7 L281.2,829.8 L282.2,829.8 L283.2,829.9 L284.1,830.0 L285.1,830.1 L286.1,830.2 L287.1,830.3 L288.0,830.4 L289.0,830.5 L290.0,830.6 L291.0,830.7 L292.0,830.8 L292.9,830.9 L293.9,831.0 L294.9,831.1 L295.9,831.2 L296.9,831.3 L297.8,831.4 L298.8,831.6 L299.8,831.7 L300.8,831.8 L301.7,831.9 L302.7,832.1 L303.7,832.2 L304.7,832.3 L305.7,832.4 L306.6,832.6 L307.6,832.7 L308.6,832.8 L309.6,833.0 L310.6,833.1 L311.5,833.2 L312.5,833.3 L313.5,833.5 L314.5,833.6 L315.5,833.7 L316.4,833.9 L317.4,834.0 L318.4,834.1 L319.4,834.3 L320.3,834.4 L321.3,834.5 L322.3,834.7 L323.3,834.8 L324.3,834.9 L325.2,835.0 L326.2,835.2 L327.2,835.3 L327.5,835.3" stroke="#0000ff" stroke-width="14" stroke-linejoin="miter"/>
<path d="M375.0,842.0 L375.2,842.0 L376.1,842.1 L377.1,842.2 L378.1,842.4 L379.1,842.5 L380.1,842.6 L381.0,842.8 L382.0,842.9 L383.0,843.0 L384.0,843.1 L384.9,843.3 L385.9,843.4 L386.9,843.5 L387.9,843.7 L388.9,843.8 L389.8,843.9 L390.8,844.0 L391.8,844.2 L392.8,844.3 L393.8,844.4 L394.7,844.5 L395.7,844.7 L396.7,844.8 L397.7,844.9 L398.7,845.0 L399.6,845.2 L400.6,845.3 L401.6,845.4 L402.6,845.5 L403.5,845.6 L404.5,845.8 L405.5,845.9 L406.5,846.0 L407.5,846.1 L408.4,846.2 L409.4,846.4 L410.4,846.5 L411.4,846.6 L412.4,846.7 L413.3,846.8 L414.3,846.9 L415.3,847.0 L416.3,847.1 L417.2,847.2 L418.2,847.3 L419.2,847.4 L420.2,847.5 L421.2,847.6 L422.1,847.7 L423.1,847.8 L424.1,847.9 L425.1,848.0 L426.0,848.1" stroke="#0000ff" stroke-width="14" stroke-linejoin="miter"/>
<path d="M474.0,836.9 L491.2,830.9" stroke="#0000ff" stroke-width="14" stroke-linejoin="miter"/>
<path d="M491.4,824.3 L492.3,824.2 L493.3,824.0 L494.3,823.8 L495.3,823.7 L496.3,823.5 L497.3,823.3 L498.3,823.2 L499.3,823.0 L500.3,822.9 L501.4,822.7 L502.4,822.5 L503.4,822.4 L504.4,822.2 L505.4,822.1 L506.4,822.0 L507.4,821.8 L508.4,821.7 L509.5,821.5 L510.5,821.4 L511.5,821.3 L512.5,821.1 L513.5,821.0 L514.5,820.9 L515.5,820.8 L516.5,820.6 L517.5,820.5 L518.6,820.4 L519.6,820.3 L520.6,820.2 L521.6,820.1 L522.6,820.0 L523.6,819.9 L524.6,819.8 L525.6,819.7 L526.7,819.6 L527.7,819.5 L528.7,819.4 L529.7,819.3 L530.7,819.2 L531.7,819.2 L532.7,819.1 L533.7,819.0 L534.8,818.9 L535.8,818.9 L536.0,818.8" stroke="#0000ff" stroke-width="14" stroke-linejoin="miter"/>
<path d="M585.0,818.1 L585.3,818.1 L586.4,818.2 L587.4,818.2 L588.4,818.3 L589.4,818.3 L590.4,818.4 L591.4,818.5 L592.4,818.6 L593.4,818.7 L594.4,818.9 L595.5,819.0 L596.5,819.1 L597.5,819.3 L598.5,819.4 L599.5,819.6 L600.5,819.8 L601.5,820.0 L602.5,820.2 L603.6,820.4 L604.6,820.6 L605.6,820.8 L606.6,821.0 L607.6,821.2 L608.6,821.4 L609.6,821.7 L610.6,821.9 L611.6,822.2 L612.7,822.4 L613.7,822.6 L614.7,822.9 L615.7,823.2 L616.7,823.4 L617.7,823.7 L618.7,823.9 L619.7,824.2 L620.8,824.5 L621.8,824.7 L622.8,825.0 L623.8,825.3 L624.8,825.5 L625.8,825.8 L626.8,826.1 L627.8,826.4 L628.8,826.6 L629.9,826.9 L630.9,827.1 L631.9,827.4 L632.9,827.7 L633.9,827.9 L634.9,828.2 L635.0,828.2" stroke="#0000ff" stroke-width="14" stroke-linejoin="miter"/>
<path d="M679.0,841.9 L679.4,842.1 L680.4,842.5 L681.5,842.9 L682.5,843.4 L683.5,843.8 L684.5,844.3 L685.5,844.8 L686.5,845.3 L687.5,845.8 L688.5,846.3 L689.6,846.8 L690.6,847.4 L691.6,847.9 L692.6,848.4 L730.0,835.8" stroke="#0000ff" stroke-width="14" stroke-linejoin="miter"/>
<path d="M789.0,818.5 L789.2,818.5 L790.2,818.5 L791.2,818.4 L792.2,818.4 L793.2,818.3 L794.2,818.3 L795.2,818.2 L796.2,818.2 L797.2,818.1 L798.2,818.1 L799.2,818.1 L800.2,818.0 L801.2,818.0 L802.2,818.0 L803.2,817.9 L804.2,817.9 L805.2,817.9 L806.2,817.8 L807.2,817.8 L808.2,817.8 L809.2,817.8 L810.2,817.8 L811.1,817.8 L812.1,817.7 L813.1,817.7 L814.1,817.7 L815.1,817.7 L816.1,817.7 L817.1,817.8 L818.1,817.8 L819.1,817.8 L820.1,817.8 L821.1,817.8 L822.1,817.9 L823.1,817.9 L824.1,817.9 L825.1,818.0 L826.1,818.0 L827.1,818.1 L828.1,818.1 L829.1,818.2 L830.1,818.2 L831.1,818.3 L832.0,818.4 L833.0,818.4 L834.0,818.5 L835.0,818.5 L836.0,818.6 L837.0,818.7 L838.0,818.8 L839.0,818.8 L840.0,818.9" stroke="#0000ff" stroke-width="14" stroke-linejoin="miter"/>
<path d="M886.0,830.3 L886.8,830.5 L887.8,830.8 L888.8,831.0 L889.8,831.3 L890.8,831.5 L891.8,831.8 L892.8,832.0 L893.8,832.3 L894.8,832.5 L895.8,832.8 L896.7,833.1 L897.7,833.3 L898.7,833.6 L899.7,833.8 L900.7,834.1 L901.7,834.3 L902.7,834.6 L903.7,834.9 L904.7,835.2 L905.7,835.4 L906.7,835.7 L907.7,836.0 L908.7,836.3 L909.7,836.6 L910.7,836.9 L911.7,837.2 L912.7,837.5 L913.7,837.8 L914.7,838.1 L915.7,838.4 L916.7,838.7 L917.6,839.1 L918.6,839.4 L919.6,839.7 L920.6,840.1 L921.6,840.4 L922.6,840.8 L923.6,841.1 L924.6,841.5 L925.6,841.8 L926.6,842.2 L927.6,842.6 L928.6,843.0 L929.6,843.3 L930.6,843.7 L931.6,844.1 L932.6,844.5 L933.6,844.9 L934.6,845.3 L935.6,845.7 L936.0,845.9" stroke="#0000ff" stroke-width="14" stroke-linejoin="miter"/>
<path d="M986.0,826.6 L986.7,826.5 L987.8,826.3 L988.8,826.2 L989.8,826.0 L990.8,825.8 L991.8,825.7 L992.8,825.5 L993.8,825.3 L994.8,825.2 L995.8,825.0 L996.8,824.9 L997.9,824.7 L998.9,824.6 L999.9,824.4 L1000.9,824.3 L1001.9,824.1 L1002.9,824.0 L1003.9,823.8 L1004.9,823.7 L1005.9,823.5 L1007.0,823.4 L1008.0,823.3 L1009.0,823.1 L1010.0,823.0 L1011.0,822.8 L1012.0,822.7 L1013.0,822.6 L1014.0,822.4 L1015.0,822.3 L1016.0,822.2 L1017.1,822.0 L1018.1,821.9 L1019.1,821.8 L1020.1,821.7 L1021.1,821.6 L1022.1,821.4 L1023.1,821.3 L1024.1,821.2 L1025.1,821.1 L1026.2,821.0 L1027.2,820.9 L1028.2,820.7 L1029.2,820.6 L1030.2,820.5 L1031.2,820.4 L1032.2,820.3 L1033.2,820.2 L1034.2,820.1 L1035.2,820.0 L1036.3,819.9 L1037.3,819.8 L1038.3,819.7 L1039.3,819.6 L1040.3,819.5 L1041.3,819.4 L1042.3,819.3 L1043.3,819.2 L1044.0,819.2" stroke="#0000ff" stroke-width="14" stroke-linejoin="miter"/>
<path d="M1092.5,818.3 L1092.8,818.4 L1093.9,818.4 L1094.9,818.6 L1095.9,818.7 L1096.9,818.8 L1097.9,819.0 L1098.9,819.2 L1099.9,819.4 L1100.9,819.6 L1101.9,819.8 L1103.0,820.0 L1104.0,820.3 L1105.0,820.5 L1106.0,820.8 L1107.0,821.1 L1108.0,821.4 L1109.0,821.7 L1110.0,822.0 L1111.0,822.4 L1112.0,822.7 L1113.1,823.0 L1114.1,823.4 L1115.1,823.7 L1116.1,824.1 L1117.1,824.5 L1118.1,824.9 L1119.1,825.2 L1120.1,825.6 L1121.1,826.0 L1122.2,826.4 L1123.2,826.8 L1124.2,827.2 L1125.2,827.6 L1126.2,828.0 L1127.2,828.4 L1128.2,828.8 L1129.2,829.2 L1130.2,829.6 L1131.2,830.0 L1132.3,830.3 L1133.3,830.7 L1134.3,831.1 L1135.3,831.5 L1136.3,831.8 L1137.3,832.2 L1138.3,832.6 L1139.3,832.9 L1140.3,833.3 L1141.4,833.6 L1142.4,833.9 L1143.4,834.2 L1143.7,834.3" stroke="#0000ff" stroke-width="14" stroke-linejoin="miter"/>
<path d="M1187.0,848.4 L1233.0,831.3" stroke="#0000ff" stroke-width="14" stroke-linejoin="miter"/>
<path d="M1233.8,826.2 L1233.9,826.1 L1234.2,826.1 L1234.5,826.1 L1234.8,826.0 L1235.2,826.0 L1235.5,825.9 L1235.8,825.9 L1236.1,825.8 L1236.4,825.8 L1236.7,825.7 L1237.0,825.7 L1237.3,825.7 L1237.6,825.6 L1238.0,825.6 L1238.3,825.5 L1238.6,825.5 L1238.9,825.4 L1239.2,825.4 L1239.5,825.4 L1239.8,825.3 L1240.1,825.3 L1240.5,825.2 L1240.8,825.2 L1241.1,825.1 L1241.4,825.1 L1241.7,825.1 L1242.0,825.0 L1242.3,825.0 L1242.6,824.9 L1242.9,824.9 L1243.3,824.9 L1243.6,824.8 L1243.9,824.8 L1244.2,824.7 L1244.5,824.7 L1244.8,824.7 L1245.1,824.6 L1245.4,824.6 L1245.8,824.5 L1246.1,824.5 L1246.4,824.5 L1246.7,824.4 L1247.0,824.4 L1247.3,824.4 L1247.6,824.3 L1247.9,824.3 L1248.0,824.3" stroke="#0000ff" stroke-width="14" stroke-linejoin="miter"/>
<path d="M244.2,792.2 V829.2" stroke="#0000ff" stroke-width="14"/>
<path d="M491.4,129.7 V162.8 M491.4,199.2 V262.5 M491.4,298.9 V362.6 M491.4,399 V462.6 M491.4,499 V562.4 M491.4,599.7 V662.5 M491.4,700.4 V763 M491.4,799.4 V835" stroke="#0000ff" stroke-width="15"/>
<path d="M738.8,142.8 V220.7 M738.8,243.2 V320.8 M738.8,343 V420.9 M738.8,442.7 V520.5 M738.8,542.5 V620.4 M738.8,643 V721.4 M738.8,743.6 V824" stroke="#0000ff" stroke-width="15"/>
<path d="M986.0,129.7 V178.5 M986.0,186.5 V278.5 M986.0,286.5 V378.5 M986.0,386.5 V478.5 M986.0,486.5 V578.7 M986.0,586.5 V678.4 M986.0,686.6 V778.5 M986.0,787 V832.5" stroke="#0000ff" stroke-width="15"/>
<path d="M1233.8,129.7 V181 M1233.8,183.8 V281 M1233.8,283.8 V381 M1233.8,383.8 V481 M1233.8,483.8 V581 M1233.8,583.8 V680.8 M1233.8,683.5 V780 M1233.8,784.8 V832" stroke="#0000ff" stroke-width="15"/>
<path d="M978.5,832 L978.5,835 L985,841.3 L993.5,832.5 L993.5,832 Z" fill="#0000ff" stroke="none"/>
</g>
<rect x="915" y="169" width="380.0" height="333.0" fill="#fff" stroke="#161616" stroke-width="2" shape-rendering="crispEdges"/>
<path d="M1057,502 v-5 M1057,169 v5 M1199,502 v-5 M1199,169 v5 M915,470 h4 M1295,470 h-4 M915,373 h4 M1295,373 h-4 M915,276 h4 M1295,276 h-4 M915,180 h4 M1295,180 h-4" stroke="#161616" stroke-width="2" fill="none" shape-rendering="crispEdges"/>
<g fill="none" stroke-linejoin="round">
<path d="M915.0,458.0 L915.4,458.4 L915.7,458.8 L916.1,459.1 L916.4,459.5 L916.8,459.9 L917.2,460.2 L917.5,460.6 L917.9,460.9 L918.2,461.2 L918.6,461.6 L919.0,461.9 L919.3,462.2 L919.7,462.5 L920.0,462.8 L920.4,463.0 L920.8,463.3 L921.1,463.6 L921.5,463.8 L921.8,464.0 L922.2,464.3 L922.6,464.5 L922.9,464.7 L923.3,464.9 L923.6,465.1 L924.0,465.3 L924.4,465.5 L924.7,465.7 L925.1,465.8 L925.5,466.0 L925.8,466.2 L926.2,466.3 L926.5,466.5 L926.9,466.7 L927.3,466.8 L927.6,467.0 L928.0,467.1 L928.3,467.3 L928.7,467.4 L929.1,467.5 L929.4,467.7 L929.8,467.8 L930.1,467.9 L930.5,468.1 L930.9,468.2 L931.2,468.3 L931.6,468.5 L931.9,468.6 L932.3,468.7 L932.7,468.8 L933.0,469.0 L933.4,469.1 L933.7,469.2 L934.1,469.3 L934.5,469.4 L934.8,469.6 L935.2,469.7 L935.5,469.8 L935.9,469.9 L936.3,470.0 L936.6,470.1 L937.0,470.2 L937.3,470.3 L937.7,470.4 L938.1,470.5 L938.4,470.6 L938.8,470.6 L939.1,470.7 L939.5,470.8 L939.9,470.8 L940.2,470.9 L940.6,471.0 L940.9,471.0 L941.3,471.1 L941.7,471.1 L942.0,471.2 L942.4,471.2 L942.7,471.3 L943.1,471.3 L943.5,471.4 L943.8,471.4 L944.2,471.5 L944.5,471.5 L944.9,471.6 L945.3,471.6 L945.6,471.6 L946.0,471.7 L946.4,471.7 L946.7,471.8 L947.1,471.8 L947.4,471.8 L947.8,471.9 L948.2,471.9 L948.5,472.0 L948.9,472.0 L949.2,472.0 L949.6,472.1 L950.0,472.1 L950.3,472.1 L950.7,472.2 L951.0,472.2 L951.4,472.2 L951.8,472.2 L952.1,472.3 L952.5,472.3 L952.8,472.3 L953.2,472.4 L953.6,472.4 L953.9,472.4 L954.3,472.5 L954.6,472.5 L955.0,472.5 L955.4,472.5 L955.7,472.6 L956.1,472.6 L956.4,472.6 L956.8,472.7 L957.2,472.7 L957.5,472.7 L957.9,472.7 L958.2,472.8 L958.6,472.8 L959.0,472.8 L959.3,472.9 L959.7,472.9 L960.0,472.9 L960.4,472.9 L960.8,473.0 L961.1,473.0 L961.5,473.0 L961.8,473.1 L962.2,473.1 L962.6,473.1 L962.9,473.2 L963.3,473.2 L963.6,473.2 L964.0,473.3 L964.4,473.3 L964.7,473.3 L965.1,473.4 L965.4,473.4 L965.8,473.4 L966.2,473.5 L966.5,473.5 L966.9,473.5 L967.3,473.6 L967.6,473.6 L968.0,473.7 L968.3,473.7 L968.7,473.7 L969.1,473.8 L969.4,473.8 L969.8,473.8 L970.1,473.9 L970.5,473.9 L970.9,474.0 L971.2,474.0 L971.6,474.0 L971.9,474.1 L972.3,474.1 L972.7,474.1 L973.0,474.2 L973.4,474.2 L973.7,474.3 L974.1,474.3 L974.5,474.3 L974.8,474.4 L975.2,474.4 L975.5,474.4 L975.9,474.5 L976.3,474.5 L976.6,474.5 L977.0,474.6 L977.3,474.6 L977.7,474.6 L978.1,474.7 L978.4,474.7 L978.8,474.7 L979.1,474.7 L979.5,474.8 L979.9,474.8 L980.2,474.8 L980.6,474.9 L980.9,474.9 L981.3,474.9 L981.7,474.9 L982.0,475.0 L982.4,475.0 L982.7,475.0 L983.1,475.0 L983.5,475.0 L983.8,475.1 L984.2,475.1 L984.5,475.1 L984.9,475.1 L985.3,475.1 L985.6,475.2 L986.0,475.2 L986.3,475.2 L986.7,475.2 L1004.2,449.7 L1004.2,428.4 L1004.2,438.1 L1004.6,438.0 L1005.0,437.9 L1005.3,437.8 L1005.7,437.7 L1006.0,437.7 L1006.4,437.6 L1006.8,437.5 L1007.1,437.5 L1007.5,437.4 L1007.9,437.3 L1008.2,437.3 L1008.6,437.2 L1009.0,437.2 L1009.3,437.1 L1009.7,437.1 L1010.1,437.0 L1010.4,437.0 L1010.8,437.0 L1011.2,436.9 L1011.5,436.9 L1011.9,436.9 L1012.3,436.8 L1012.6,436.8 L1013.0,436.8 L1013.3,436.8 L1013.7,436.7 L1014.1,436.7 L1014.4,436.7 L1014.8,436.7 L1015.2,436.7 L1015.5,436.7 L1015.9,436.7 L1016.3,436.7 L1016.6,436.7 L1017.0,436.7 L1017.4,436.7 L1017.7,436.7 L1018.1,436.6 L1018.5,436.6 L1018.8,436.6 L1019.2,436.7 L1019.6,436.7 L1019.9,436.7 L1020.3,436.7 L1020.7,436.7 L1021.0,436.8 L1021.4,436.8 L1021.7,436.8 L1022.1,436.9 L1022.5,436.9 L1022.8,437.0 L1023.2,437.1 L1023.6,437.1 L1023.9,437.2 L1024.3,437.3 L1024.7,437.4 L1025.0,437.4 L1025.4,437.5 L1025.8,437.6 L1026.1,437.7 L1026.5,437.8 L1026.9,437.9 L1027.2,438.0 L1027.6,438.1 L1028.0,438.2 L1028.3,438.3 L1028.7,438.5 L1029.0,438.6 L1029.4,438.7 L1029.8,438.8 L1030.1,438.9 L1030.5,439.1 L1030.9,439.2 L1031.2,439.3 L1031.6,439.5 L1032.0,439.6 L1032.3,439.7 L1032.7,439.9 L1033.1,440.0 L1033.4,440.1 L1033.8,440.3 L1034.2,440.4 L1034.5,440.5 L1034.9,440.7 L1035.3,440.8 L1035.6,441.0 L1036.0,441.1 L1036.4,441.3 L1036.7,441.4 L1037.1,441.6 L1037.4,441.8 L1037.8,442.0 L1038.2,442.2 L1038.5,442.4 L1038.9,442.6 L1039.3,442.8 L1039.6,443.1 L1040.0,443.3 L1040.4,443.6 L1040.7,443.8 L1041.1,444.1 L1041.5,444.4 L1041.8,444.6 L1042.2,444.9 L1042.6,445.2 L1042.9,445.5 L1043.3,445.8 L1043.7,446.1 L1044.0,446.4 L1044.4,446.7 L1044.7,447.0 L1045.1,447.3 L1045.5,447.6 L1045.8,448.0 L1046.2,448.3 L1046.6,448.6 L1046.9,448.9 L1047.3,449.3 L1047.7,449.6 L1048.0,449.9 L1048.4,450.3 L1048.8,450.6 L1049.1,450.9 L1049.5,451.3 L1049.9,451.6 L1050.2,451.9 L1050.6,452.3 L1051.0,452.6 L1051.3,453.0 L1051.7,453.3 L1052.1,453.7 L1052.4,454.0 L1052.8,454.4 L1053.1,454.8 L1053.5,455.2 L1053.9,455.5 L1054.2,455.9 L1054.6,456.3 L1055.0,456.7 L1055.3,457.1 L1055.7,457.5 L1056.1,457.9 L1056.4,458.4 L1056.8,458.8 L1057.2,459.2 L1057.5,459.6 L1057.9,460.1 L1058.3,460.5 L1058.6,460.9 L1059.0,461.4 L1059.4,461.8 L1059.7,462.3 L1060.1,462.8 L1060.4,463.2 L1060.8,463.7 L1061.2,464.2 L1061.5,464.6 L1061.9,465.1 L1062.3,465.6 L1062.6,466.1 L1063.0,466.6 L1063.4,467.1 L1063.7,467.6 L1064.1,468.1 L1064.5,468.6 L1064.8,469.1 L1065.2,469.6 L1065.6,470.2 L1065.9,470.7 L1066.3,471.3 L1066.7,471.9 L1067.0,472.5 L1067.4,473.0 L1067.8,473.6 L1068.1,474.3 L1068.5,474.9 L1068.8,475.5 L1069.2,476.1 L1069.6,476.8 L1069.9,477.4 L1070.3,478.1 L1070.7,478.7 L1071.0,479.4 L1071.4,480.0 L1071.8,480.7 L1072.1,481.4 L1072.5,482.1 L1072.9,482.8 L1073.2,483.5 L1073.6,484.3 L1074.0,485.0 L1074.3,485.8 L1074.7,486.5 L1075.1,487.3 L1075.4,488.1 L1075.8,488.9 L1076.1,489.7 L1076.5,490.5 L1076.9,491.3 L1093.4,462.3 L1093.4,432.6 L1093.4,451.1 L1093.8,450.9 L1094.2,450.7 L1094.5,450.5 L1094.9,450.3 L1095.3,450.1 L1095.6,449.9 L1096.0,449.7 L1096.4,449.6 L1096.7,449.4 L1097.1,449.2 L1097.5,449.1 L1097.8,448.9 L1098.2,448.8 L1098.6,448.6 L1098.9,448.5 L1099.3,448.3 L1099.7,448.2 L1100.0,448.1 L1100.4,448.0 L1100.8,447.9 L1101.1,447.7 L1101.5,447.6 L1101.9,447.5 L1102.2,447.4 L1102.6,447.4 L1102.9,447.3 L1103.3,447.2 L1103.7,447.1 L1104.0,447.0 L1104.4,447.0 L1104.8,446.9 L1105.1,446.8 L1105.5,446.8 L1105.9,446.7 L1106.2,446.7 L1106.6,446.6 L1107.0,446.6 L1107.3,446.6 L1107.7,446.5 L1108.1,446.5 L1108.4,446.5 L1108.8,446.4 L1109.2,446.4 L1109.5,446.4 L1109.9,446.4 L1110.3,446.4 L1110.6,446.3 L1111.0,446.3 L1111.4,446.3 L1111.7,446.3 L1112.1,446.3 L1112.5,446.3 L1112.8,446.3 L1113.2,446.3 L1113.6,446.4 L1113.9,446.4 L1114.3,446.5 L1114.6,446.5 L1115.0,446.6 L1115.4,446.7 L1115.7,446.8 L1116.1,446.9 L1116.5,447.0 L1116.8,447.1 L1117.2,447.2 L1117.6,447.4 L1117.9,447.5 L1118.3,447.6 L1118.7,447.8 L1119.0,447.9 L1119.4,448.0 L1119.8,448.2 L1120.1,448.3 L1120.5,448.5 L1120.9,448.6 L1121.2,448.8 L1121.6,448.9 L1122.0,449.0 L1122.3,449.2 L1122.7,449.3 L1123.1,449.5 L1123.4,449.7 L1123.8,449.8 L1124.2,450.0 L1124.5,450.2 L1124.9,450.4 L1125.3,450.6 L1125.6,450.8 L1126.0,451.0 L1126.3,451.2 L1126.7,451.4 L1127.1,451.7 L1127.4,451.9 L1127.8,452.1 L1128.2,452.4 L1128.5,452.6 L1128.9,452.9 L1129.3,453.1 L1129.6,453.4 L1130.0,453.6 L1130.4,453.9 L1130.7,454.2 L1131.1,454.4 L1131.5,454.7 L1131.8,455.0 L1132.2,455.3 L1132.6,455.6 L1132.9,455.8 L1133.3,456.1 L1133.7,456.4 L1134.0,456.7 L1134.4,457.0 L1134.8,457.3 L1135.1,457.7 L1135.5,458.0 L1135.9,458.3 L1136.2,458.6 L1136.6,458.9 L1136.9,459.2 L1137.3,459.5 L1137.7,459.9 L1138.0,460.2 L1138.4,460.5 L1138.8,460.9 L1139.1,461.3 L1139.5,461.6 L1139.9,462.0 L1140.2,462.4 L1140.6,462.8 L1141.0,463.2 L1141.3,463.6 L1141.7,464.0 L1142.1,464.5 L1142.4,464.9 L1142.8,465.3 L1143.2,465.8 L1143.5,466.2 L1143.9,466.7 L1144.3,467.2 L1144.6,467.6 L1145.0,468.1 L1145.4,468.6 L1145.7,469.1 L1146.1,469.6 L1146.5,470.0 L1146.8,470.5 L1147.2,471.0 L1147.6,471.5 L1147.9,472.0 L1148.3,472.5 L1148.6,473.0 L1149.0,473.5 L1149.4,474.0 L1149.7,474.5 L1150.1,475.0 L1150.5,475.5 L1150.8,476.0 L1151.2,476.5 L1151.6,477.0 L1151.9,477.5 L1152.3,478.0 L1152.7,478.5 L1153.0,479.0 L1153.4,479.5 L1153.8,479.9 L1154.1,480.4 L1154.5,480.9 L1154.9,481.4 L1155.2,481.9 L1155.6,482.3 L1156.0,482.8 L1156.3,483.3 L1156.7,483.8 L1157.1,484.3 L1157.4,484.8 L1157.8,485.3 L1158.2,485.8 L1158.5,486.3 L1158.9,486.8 L1159.3,487.3 L1159.6,487.8 L1160.0,488.4 L1160.3,488.9 L1160.7,489.4 L1161.1,490.0 L1161.4,490.5 L1161.8,491.0 L1162.2,491.6 L1162.5,492.2 L1162.9,492.7 L1163.3,493.3 L1163.6,493.9 L1164.0,494.5 L1164.4,495.0 L1164.7,495.6 L1165.1,496.2 L1165.5,496.8 L1165.8,497.4 L1166.2,498.0 L1182.7,465.2 L1182.7,437.1 L1182.7,452.6 L1183.0,452.5 L1183.4,452.3 L1183.8,452.2 L1184.1,452.1 L1184.5,451.9 L1184.8,451.8 L1185.2,451.7 L1185.6,451.6 L1185.9,451.5 L1186.3,451.4 L1186.7,451.3 L1187.0,451.2 L1187.4,451.1 L1187.7,451.0 L1188.1,450.9 L1188.5,450.8 L1188.8,450.7 L1189.2,450.6 L1189.6,450.5 L1189.9,450.4 L1190.3,450.4 L1190.7,450.3 L1191.0,450.2 L1191.4,450.2 L1191.7,450.1 L1192.1,450.0 L1192.5,450.0 L1192.8,449.9 L1193.2,449.9 L1193.6,449.8 L1193.9,449.8 L1194.3,449.7 L1194.7,449.7 L1195.0,449.6 L1195.4,449.6 L1195.7,449.6 L1196.1,449.5 L1196.5,449.5 L1196.8,449.5 L1197.2,449.4 L1197.6,449.4 L1197.9,449.4 L1198.3,449.4 L1198.6,449.4 L1199.0,449.4 L1199.4,449.3 L1199.7,449.3 L1200.1,449.3 L1200.5,449.3 L1200.8,449.3 L1201.2,449.3 L1201.6,449.3 L1201.9,449.3 L1202.3,449.3 L1202.6,449.3 L1203.0,449.4 L1203.4,449.4 L1203.7,449.4 L1204.1,449.5 L1204.5,449.5 L1204.8,449.5 L1205.2,449.6 L1205.5,449.6 L1205.9,449.7 L1206.3,449.7 L1206.6,449.8 L1207.0,449.9 L1207.4,449.9 L1207.7,450.0 L1208.1,450.1 L1208.5,450.2 L1208.8,450.2 L1209.2,450.3 L1209.5,450.4 L1209.9,450.5 L1210.3,450.6 L1210.6,450.7 L1211.0,450.8 L1211.4,450.9 L1211.7,451.0 L1212.1,451.1 L1212.4,451.2 L1212.8,451.3 L1213.2,451.4 L1213.5,451.5 L1213.9,451.6 L1214.3,451.7 L1214.6,451.9 L1215.0,452.0 L1215.4,452.1 L1215.7,452.2 L1216.1,452.3 L1216.4,452.4 L1216.8,452.6 L1217.2,452.7 L1217.5,452.8 L1217.9,453.0 L1218.3,453.2 L1218.6,453.3 L1219.0,453.5 L1219.4,453.7 L1219.7,453.9 L1220.1,454.2 L1220.4,454.4 L1220.8,454.7 L1221.2,454.9 L1221.5,455.2 L1221.9,455.5 L1222.3,455.7 L1222.6,456.0 L1223.0,456.3 L1223.3,456.7 L1223.7,457.0 L1224.1,457.3 L1224.4,457.6 L1224.8,458.0 L1225.2,458.3 L1225.5,458.7 L1225.9,459.0 L1226.3,459.4 L1226.6,459.7 L1227.0,460.1 L1227.3,460.5 L1227.7,460.8 L1228.1,461.2 L1228.4,461.6 L1228.8,462.0 L1229.2,462.3 L1229.5,462.7 L1229.9,463.1 L1230.2,463.5 L1230.6,463.9 L1231.0,464.2 L1231.3,464.6 L1231.7,465.0 L1232.1,465.4 L1232.4,465.8 L1232.8,466.1 L1233.2,466.5 L1233.5,466.9 L1233.9,467.3 L1234.2,467.6 L1234.6,468.0 L1235.0,468.4 L1235.3,468.8 L1235.7,469.2 L1236.1,469.6 L1236.4,470.0 L1236.8,470.4 L1237.1,470.8 L1237.5,471.2 L1237.9,471.6 L1238.2,472.1 L1238.6,472.5 L1239.0,472.9 L1239.3,473.4 L1239.7,473.8 L1240.1,474.2 L1240.4,474.7 L1240.8,475.1 L1241.1,475.6 L1241.5,476.1 L1241.9,476.5 L1242.2,477.0 L1242.6,477.5 L1243.0,478.0 L1243.3,478.5 L1243.7,479.0 L1244.1,479.5 L1244.4,480.0 L1244.8,480.5 L1245.1,481.0 L1245.5,481.5 L1245.9,482.1 L1246.2,482.6 L1246.6,483.1 L1247.0,483.7 L1247.3,484.3 L1247.7,484.8 L1248.0,485.4 L1248.4,486.0 L1248.8,486.6 L1249.1,487.2 L1249.5,487.8 L1249.9,488.4 L1250.2,489.1 L1250.6,489.8 L1251.0,490.5 L1251.3,491.2 L1251.7,491.9 L1252.0,492.7 L1252.4,493.5 L1252.8,494.2 L1253.1,495.0 L1253.5,495.8 L1253.9,496.6 L1254.2,497.4 L1254.6,498.2 L1254.9,499.0 L1271.9,465.2 L1271.9,433.3 L1271.9,456.9 L1272.0,456.9 L1272.1,456.9 L1272.2,456.9 L1272.3,456.9 L1272.4,456.9 L1272.6,456.8 L1272.7,456.8 L1272.8,456.8 L1272.9,456.8 L1273.0,456.8 L1273.1,456.7 L1273.2,456.7 L1273.3,456.7 L1273.5,456.7 L1273.6,456.7 L1273.7,456.6 L1273.8,456.6 L1273.9,456.6 L1274.0,456.6 L1274.1,456.6 L1274.2,456.5 L1274.4,456.5 L1274.5,456.5 L1274.6,456.5 L1274.7,456.4 L1274.8,456.4 L1274.9,456.4 L1275.0,456.4 L1275.1,456.3 L1275.3,456.3 L1275.4,456.3 L1275.5,456.3 L1275.6,456.3 L1275.7,456.2 L1275.8,456.2 L1275.9,456.2 L1276.0,456.1 L1276.2,456.1 L1276.3,456.1 L1276.4,456.1 L1276.5,456.0 L1276.6,456.0 L1276.7,456.0 L1276.8,456.0 L1276.9,455.9 L1277.1,455.9 L1277.2,455.9 L1277.3,455.9 L1277.4,455.8 L1277.5,455.8 L1277.6,455.8 L1277.7,455.7 L1277.8,455.7 L1278.0,455.7 L1278.1,455.7 L1278.2,455.6 L1278.3,455.6 L1278.4,455.6 L1278.5,455.5 L1278.6,455.5 L1278.7,455.5 L1278.9,455.4 L1279.0,455.4 L1279.1,455.4 L1279.2,455.3 L1279.3,455.3 L1279.4,455.3 L1279.5,455.3 L1279.6,455.2 L1279.8,455.2 L1279.9,455.2 L1280.0,455.1 L1280.1,455.1 L1280.2,455.1 L1280.3,455.0 L1280.4,455.0 L1280.5,455.0 L1280.7,454.9 L1280.8,454.9 L1280.9,454.9 L1281.0,454.8 L1281.1,454.8 L1281.2,454.8 L1281.3,454.7 L1281.4,454.7 L1281.6,454.7 L1281.7,454.6 L1281.8,454.6 L1281.9,454.5 L1282.0,454.5 L1282.1,454.5 L1282.2,454.4 L1282.3,454.4 L1282.5,454.4 L1282.6,454.3 L1282.7,454.3 L1282.8,454.2 L1282.9,454.2 L1283.0,454.2 L1283.1,454.1 L1283.2,454.1 L1283.4,454.0 L1283.5,454.0 L1283.6,454.0 L1283.7,453.9 L1283.8,453.9 L1283.9,453.8 L1284.0,453.8 L1284.1,453.8 L1284.3,453.7 L1284.4,453.7 L1284.5,453.6 L1284.6,453.6 L1284.7,453.5 L1284.8,453.5 L1284.9,453.5 L1285.0,453.4 L1285.2,453.4 L1285.3,453.3 L1285.4,453.3 L1285.5,453.2 L1285.6,453.2 L1285.7,453.2 L1285.8,453.1 L1285.9,453.1 L1286.1,453.0 L1286.2,453.0 L1286.3,452.9 L1286.4,452.9 L1286.5,452.8 L1286.6,452.8 L1286.7,452.7 L1286.8,452.7 L1287.0,452.6 L1287.1,452.6 L1287.2,452.5 L1287.3,452.5 L1287.4,452.4 L1287.5,452.4 L1287.6,452.3 L1287.7,452.3 L1287.9,452.2 L1288.0,452.2 L1288.1,452.1 L1288.2,452.1 L1288.3,452.0 L1288.4,452.0 L1288.5,451.9 L1288.6,451.9 L1288.8,451.8 L1288.9,451.8 L1289.0,451.7 L1289.1,451.7 L1289.2,451.6 L1289.3,451.6 L1289.4,451.5 L1289.5,451.5 L1289.7,451.4 L1289.8,451.4 L1289.9,451.3 L1290.0,451.3 L1290.1,451.2 L1290.2,451.1 L1290.3,451.1 L1290.4,451.0 L1290.6,451.0 L1290.7,450.9 L1290.8,450.9 L1290.9,450.8 L1291.0,450.8 L1291.1,450.7 L1291.2,450.6 L1291.3,450.6 L1291.5,450.5 L1291.6,450.5 L1291.7,450.4 L1291.8,450.4 L1291.9,450.3 L1292.0,450.2 L1292.1,450.2 L1292.2,450.1 L1292.4,450.1 L1292.5,450.0 L1292.6,449.9 L1292.7,449.9 L1292.8,449.8 L1292.9,449.8 L1293.0,449.7 L1293.1,449.6 L1293.3,449.6 L1293.4,449.5 L1293.5,449.5 L1293.6,449.4 L1293.7,449.3 L1293.8,449.3 L1293.9,449.2 L1294.0,449.1 L1294.2,449.1 L1294.3,449.0" stroke="#ff0000" stroke-width="14"/>
<circle cx="915.0" cy="458.0" r="7" fill="#ff0000" stroke="none"/>
<path d="M915.0,464.2 L915.4,464.4 L915.7,464.7 L916.1,464.9 L916.5,465.1 L916.9,465.3 L917.2,465.5 L917.6,465.8 L918.0,466.0 L918.3,466.2 L918.7,466.4 L919.1,466.6 L919.5,466.8 L919.8,467.0 L920.2,467.2 L920.6,467.4 L920.9,467.6 L921.3,467.8 L921.7,468.0 L922.1,468.2 L922.4,468.3 L922.8,468.5 L923.2,468.7 L923.5,468.9 L923.9,469.0 L924.3,469.2 L924.6,469.3 L925.0,469.5 L925.4,469.6 L925.8,469.8 L926.1,469.9 L926.5,470.1 L926.9,470.2 L927.2,470.3 L927.6,470.4 L928.0,470.6 L928.4,470.7 L928.7,470.8 L929.1,470.9 L929.5,471.0 L929.8,471.1 L930.2,471.2 L930.6,471.3 L931.0,471.4 L931.3,471.6 L931.7,471.7 L932.1,471.8 L932.4,471.9 L932.8,471.9 L933.2,472.0 L933.6,472.1 L933.9,472.2 L934.3,472.3 L934.7,472.4 L935.0,472.5 L935.4,472.6 L935.8,472.7 L936.2,472.8 L936.5,472.9 L936.9,473.0 L937.3,473.1 L937.6,473.1 L938.0,473.2 L938.4,473.3 L938.7,473.4 L939.1,473.5 L939.5,473.6 L939.9,473.7 L940.2,473.8 L940.6,473.9 L941.0,474.0 L941.3,474.1 L941.7,474.2 L942.1,474.3 L942.5,474.3 L942.8,474.4 L943.2,474.5 L943.6,474.6 L943.9,474.7 L944.3,474.8 L944.7,474.9 L945.1,475.0 L945.4,475.1 L945.8,475.2 L946.2,475.3 L946.5,475.4 L946.9,475.4 L947.3,475.5 L947.7,475.6 L948.0,475.7 L948.4,475.8 L948.8,475.9 L949.1,476.0 L949.5,476.1 L949.9,476.2 L950.3,476.2 L950.6,476.3 L951.0,476.4 L951.4,476.5 L951.7,476.6 L952.1,476.7 L952.5,476.8 L952.8,476.9 L953.2,476.9 L953.6,477.0 L954.0,477.1 L954.3,477.2 L954.7,477.3 L955.1,477.4 L955.4,477.5 L955.8,477.6 L956.2,477.6 L956.6,477.7 L956.9,477.8 L957.3,477.9 L957.7,478.0 L958.0,478.1 L958.4,478.2 L958.8,478.3 L959.2,478.3 L959.5,478.4 L959.9,478.5 L960.3,478.6 L960.6,478.7 L961.0,478.8 L961.4,478.9 L961.8,479.0 L962.1,479.0 L962.5,479.1 L962.9,479.2 L963.2,479.3 L963.6,479.4 L964.0,479.5 L964.4,479.6 L964.7,479.7 L965.1,479.8 L965.5,479.9 L965.8,480.0 L966.2,480.0 L966.6,480.1 L966.9,480.2 L967.3,480.3 L967.7,480.4 L968.1,480.5 L968.4,480.6 L968.8,480.7 L969.2,480.8 L969.5,480.9 L969.9,481.0 L970.3,481.1 L970.7,481.2 L971.0,481.3 L971.4,481.4 L971.8,481.5 L972.1,481.6 L972.5,481.7 L972.9,481.8 L973.3,481.9 L973.6,482.0 L974.0,482.1 L974.4,482.2 L974.7,482.3 L975.1,482.4 L975.5,482.5 L975.9,482.6 L976.2,482.7 L976.6,482.8 L977.0,482.9 L977.3,482.9 L977.7,483.0 L978.1,483.1 L978.5,483.2 L978.8,483.3 L979.2,483.3 L979.6,483.4 L979.9,483.5 L980.3,483.5 L980.7,483.6 L981.0,483.7 L981.4,483.7 L981.8,483.8 L982.2,483.8 L982.5,483.9 L982.9,484.0 L983.3,484.0 L983.6,484.1 L984.0,484.1 L984.4,484.2 L984.8,484.2 L985.1,484.3 L985.5,484.3 L985.9,484.4 L986.2,484.4 L986.6,484.5 L987.0,484.5 L987.4,484.5 L987.7,484.6 L988.1,484.6 L988.5,484.7 L988.8,484.7 L1004.2,458.4" stroke="#00ff00" stroke-width="14" stroke-dasharray="14 11" stroke-dashoffset="5.5" stroke-linejoin="bevel"/>
<path d="M1004.2,444.9 L1004.6,444.8 L1005.0,444.7 L1005.3,444.6 L1005.7,444.5 L1006.0,444.4 L1006.4,444.4 L1006.8,444.3 L1007.1,444.2 L1007.5,444.2 L1007.9,444.1 L1008.2,444.0 L1008.6,444.0 L1009.0,443.9 L1009.3,443.9 L1009.7,443.8 L1010.1,443.8 L1010.4,443.8 L1010.8,443.7 L1011.2,443.7 L1011.5,443.7 L1011.9,443.6 L1012.3,443.6 L1012.6,443.6 L1013.0,443.6 L1013.3,443.5 L1013.7,443.5 L1014.1,443.5 L1014.4,443.5 L1014.8,443.5 L1015.2,443.5 L1015.5,443.5 L1015.9,443.4 L1016.3,443.4 L1016.6,443.4 L1017.0,443.4 L1017.4,443.4 L1017.7,443.4 L1018.1,443.4 L1018.5,443.4 L1018.8,443.4 L1019.2,443.4 L1019.6,443.4 L1019.9,443.5 L1020.3,443.5 L1020.7,443.5 L1021.0,443.5 L1021.4,443.6 L1021.7,443.6 L1022.1,443.7 L1022.5,443.7 L1022.8,443.8 L1023.2,443.8 L1023.6,443.9 L1023.9,444.0 L1024.3,444.0 L1024.7,444.1 L1025.0,444.2 L1025.4,444.3 L1025.8,444.4 L1026.1,444.5 L1026.5,444.6 L1026.9,444.7 L1027.2,444.8 L1027.6,444.9 L1028.0,445.0 L1028.3,445.1 L1028.7,445.2 L1029.0,445.3 L1029.4,445.5 L1029.8,445.6 L1030.1,445.7 L1030.5,445.8 L1030.9,446.0 L1031.2,446.1 L1031.6,446.2 L1032.0,446.4 L1032.3,446.5 L1032.7,446.6 L1033.1,446.8 L1033.4,446.9 L1033.8,447.0 L1034.2,447.2 L1034.5,447.3 L1034.9,447.5 L1035.3,447.6 L1035.6,447.7 L1036.0,447.9 L1036.4,448.0 L1036.7,448.2 L1037.1,448.4 L1037.4,448.6 L1037.8,448.8 L1038.2,449.0 L1038.5,449.2 L1038.9,449.4 L1039.3,449.6 L1039.6,449.8 L1040.0,450.1 L1040.4,450.3 L1040.7,450.6 L1041.1,450.9 L1041.5,451.1 L1041.8,451.4 L1042.2,451.7 L1042.6,452.0 L1042.9,452.3 L1043.3,452.5 L1043.7,452.9 L1044.0,453.2 L1044.4,453.5 L1044.7,453.8 L1045.1,454.1 L1045.5,454.4 L1045.8,454.7 L1046.2,455.1 L1046.6,455.4 L1046.9,455.7 L1047.3,456.0 L1047.7,456.4 L1048.0,456.7 L1048.4,457.0 L1048.8,457.4 L1049.1,457.7 L1049.5,458.0 L1049.9,458.4 L1050.2,458.7 L1050.6,459.0 L1051.0,459.4 L1051.3,459.7 L1051.7,460.1 L1052.1,460.4 L1052.4,460.8 L1052.8,461.2 L1053.1,461.6 L1053.5,461.9 L1053.9,462.3 L1054.2,462.7 L1054.6,463.1 L1055.0,463.5 L1055.3,463.9 L1055.7,464.3 L1056.1,464.7 L1056.4,465.1 L1056.8,465.5 L1057.2,466.0 L1057.5,466.4 L1057.9,466.8 L1058.3,467.3 L1058.6,467.7 L1059.0,468.2 L1059.4,468.6 L1059.7,469.1 L1060.1,469.5 L1060.4,470.0 L1060.8,470.5 L1061.2,470.9 L1061.5,471.4 L1061.9,471.9 L1062.3,472.4 L1062.6,472.8 L1063.0,473.3 L1063.4,473.8 L1063.7,474.3 L1064.1,474.8 L1064.5,475.3 L1064.8,475.9 L1065.2,476.4 L1065.6,476.9 L1065.9,477.5 L1066.3,478.1 L1066.7,478.6 L1067.0,479.2 L1067.4,479.8 L1067.8,480.4 L1068.1,481.0 L1068.5,481.6 L1068.8,482.3 L1069.2,482.9 L1069.6,483.5 L1069.9,484.2 L1070.3,484.8 L1070.7,485.5 L1071.0,486.1 L1071.4,486.8 L1071.8,487.5 L1072.1,488.2 L1072.5,488.9 L1072.9,489.6 L1073.2,490.3 L1073.6,491.0 L1074.0,491.8 L1074.3,492.5 L1074.7,493.3 L1075.1,494.1 L1075.4,494.8 L1075.8,495.6 L1076.1,496.4 L1076.5,497.2 L1076.9,498.0 L1093.4,469.0" stroke="#00ff00" stroke-width="14" stroke-dasharray="14 11" stroke-dashoffset="19.9" stroke-linejoin="bevel"/>
<path d="M1093.4,453.1 L1093.8,452.9 L1094.2,452.6 L1094.5,452.4 L1094.9,452.2 L1095.3,452.0 L1095.6,451.8 L1096.0,451.7 L1096.4,451.5 L1096.7,451.3 L1097.1,451.1 L1097.5,451.0 L1097.8,450.8 L1098.2,450.7 L1098.6,450.5 L1098.9,450.4 L1099.3,450.3 L1099.7,450.1 L1100.0,450.0 L1100.4,449.9 L1100.8,449.8 L1101.1,449.7 L1101.5,449.6 L1101.9,449.5 L1102.2,449.4 L1102.6,449.3 L1102.9,449.2 L1103.3,449.1 L1103.7,449.0 L1104.0,449.0 L1104.4,448.9 L1104.8,448.8 L1105.1,448.8 L1105.5,448.7 L1105.9,448.7 L1106.2,448.6 L1106.6,448.6 L1107.0,448.5 L1107.3,448.5 L1107.7,448.5 L1108.1,448.4 L1108.4,448.4 L1108.8,448.4 L1109.2,448.3 L1109.5,448.3 L1109.9,448.3 L1110.3,448.3 L1110.6,448.3 L1111.0,448.3 L1111.4,448.3 L1111.7,448.3 L1112.1,448.2 L1112.5,448.2 L1112.8,448.3 L1113.2,448.3 L1113.6,448.3 L1113.9,448.4 L1114.3,448.4 L1114.6,448.5 L1115.0,448.6 L1115.4,448.6 L1115.7,448.7 L1116.1,448.8 L1116.5,448.9 L1116.8,449.0 L1117.2,449.2 L1117.6,449.3 L1117.9,449.4 L1118.3,449.5 L1118.7,449.7 L1119.0,449.8 L1119.4,450.0 L1119.8,450.1 L1120.1,450.3 L1120.5,450.4 L1120.9,450.5 L1121.2,450.7 L1121.6,450.8 L1122.0,451.0 L1122.3,451.1 L1122.7,451.3 L1123.1,451.4 L1123.4,451.6 L1123.8,451.8 L1124.2,452.0 L1124.5,452.1 L1124.9,452.3 L1125.3,452.5 L1125.6,452.7 L1126.0,452.9 L1126.3,453.2 L1126.7,453.4 L1127.1,453.6 L1127.4,453.8 L1127.8,454.1 L1128.2,454.3 L1128.5,454.5 L1128.9,454.8 L1129.3,455.0 L1129.6,455.3 L1130.0,455.6 L1130.4,455.8 L1130.7,456.1 L1131.1,456.4 L1131.5,456.6 L1131.8,456.9 L1132.2,457.2 L1132.6,457.5 L1132.9,457.8 L1133.3,458.1 L1133.7,458.4 L1134.0,458.7 L1134.4,459.0 L1134.8,459.3 L1135.1,459.6 L1135.5,459.9 L1135.9,460.2 L1136.2,460.5 L1136.6,460.8 L1136.9,461.2 L1137.3,461.5 L1137.7,461.8 L1138.0,462.1 L1138.4,462.5 L1138.8,462.8 L1139.1,463.2 L1139.5,463.6 L1139.9,463.9 L1140.2,464.3 L1140.6,464.7 L1141.0,465.1 L1141.3,465.5 L1141.7,466.0 L1142.1,466.4 L1142.4,466.8 L1142.8,467.3 L1143.2,467.7 L1143.5,468.2 L1143.9,468.6 L1144.3,469.1 L1144.6,469.6 L1145.0,470.0 L1145.4,470.5 L1145.7,471.0 L1146.1,471.5 L1146.5,472.0 L1146.8,472.5 L1147.2,473.0 L1147.6,473.5 L1147.9,474.0 L1148.3,474.5 L1148.6,475.0 L1149.0,475.5 L1149.4,476.0 L1149.7,476.5 L1150.1,477.0 L1150.5,477.5 L1150.8,478.0 L1151.2,478.5 L1151.6,479.0 L1151.9,479.4 L1152.3,479.9 L1152.7,480.4 L1153.0,480.9 L1153.4,481.4 L1153.8,481.9 L1154.1,482.4 L1154.5,482.8 L1154.9,483.3 L1155.2,483.8 L1155.6,484.3 L1156.0,484.8 L1156.3,485.2 L1156.7,485.7 L1157.1,486.2 L1157.4,486.7 L1157.8,487.2 L1158.2,487.7 L1158.5,488.2 L1158.9,488.7 L1159.3,489.2 L1159.6,489.8 L1160.0,490.3 L1160.3,490.8 L1160.7,491.3 L1161.1,491.9 L1161.4,492.4 L1161.8,493.0 L1162.2,493.5 L1162.5,494.1 L1162.9,494.7 L1163.3,495.2 L1163.6,495.8 L1164.0,496.4 L1164.4,497.0 L1164.7,497.6 L1165.1,498.2 L1165.5,498.8 L1165.8,499.4 L1166.2,500.0 L1182.7,467.1" stroke="#00ff00" stroke-width="14" stroke-dasharray="14 11" stroke-dashoffset="8.0" stroke-linejoin="bevel"/>
<path d="M1182.7,456.5 L1183.0,456.3 L1183.4,456.2 L1183.8,456.1 L1184.1,455.9 L1184.5,455.8 L1184.8,455.7 L1185.2,455.6 L1185.6,455.4 L1185.9,455.3 L1186.3,455.2 L1186.7,455.1 L1187.0,455.0 L1187.4,454.9 L1187.7,454.8 L1188.1,454.7 L1188.5,454.6 L1188.8,454.6 L1189.2,454.5 L1189.6,454.4 L1189.9,454.3 L1190.3,454.2 L1190.7,454.2 L1191.0,454.1 L1191.4,454.0 L1191.7,454.0 L1192.1,453.9 L1192.5,453.8 L1192.8,453.8 L1193.2,453.7 L1193.6,453.7 L1193.9,453.6 L1194.3,453.6 L1194.7,453.5 L1195.0,453.5 L1195.4,453.5 L1195.7,453.4 L1196.1,453.4 L1196.5,453.4 L1196.8,453.3 L1197.2,453.3 L1197.6,453.3 L1197.9,453.3 L1198.3,453.3 L1198.6,453.2 L1199.0,453.2 L1199.4,453.2 L1199.7,453.2 L1200.1,453.2 L1200.5,453.2 L1200.8,453.2 L1201.2,453.2 L1201.6,453.2 L1201.9,453.2 L1202.3,453.2 L1202.6,453.2 L1203.0,453.2 L1203.4,453.3 L1203.7,453.3 L1204.1,453.3 L1204.5,453.4 L1204.8,453.4 L1205.2,453.4 L1205.5,453.5 L1205.9,453.6 L1206.3,453.6 L1206.6,453.7 L1207.0,453.7 L1207.4,453.8 L1207.7,453.9 L1208.1,453.9 L1208.5,454.0 L1208.8,454.1 L1209.2,454.2 L1209.5,454.3 L1209.9,454.4 L1210.3,454.5 L1210.6,454.5 L1211.0,454.6 L1211.4,454.7 L1211.7,454.8 L1212.1,454.9 L1212.4,455.1 L1212.8,455.2 L1213.2,455.3 L1213.5,455.4 L1213.9,455.5 L1214.3,455.6 L1214.6,455.7 L1215.0,455.8 L1215.4,456.0 L1215.7,456.1 L1216.1,456.2 L1216.4,456.3 L1216.8,456.4 L1217.2,456.6 L1217.5,456.7 L1217.9,456.9 L1218.3,457.0 L1218.6,457.2 L1219.0,457.4 L1219.4,457.6 L1219.7,457.8 L1220.1,458.0 L1220.4,458.3 L1220.8,458.5 L1221.2,458.8 L1221.5,459.1 L1221.9,459.3 L1222.3,459.6 L1222.6,459.9 L1223.0,460.2 L1223.3,460.5 L1223.7,460.8 L1224.1,461.2 L1224.4,461.5 L1224.8,461.8 L1225.2,462.2 L1225.5,462.5 L1225.9,462.9 L1226.3,463.2 L1226.6,463.6 L1227.0,464.0 L1227.3,464.3 L1227.7,464.7 L1228.1,465.1 L1228.4,465.4 L1228.8,465.8 L1229.2,466.2 L1229.5,466.6 L1229.9,467.0 L1230.2,467.3 L1230.6,467.7 L1231.0,468.1 L1231.3,468.5 L1231.7,468.9 L1232.1,469.2 L1232.4,469.6 L1232.8,470.0 L1233.2,470.4 L1233.5,470.7 L1233.9,471.1 L1234.2,471.5 L1234.6,471.9 L1235.0,472.3 L1235.3,472.7 L1235.7,473.1 L1236.1,473.5 L1236.4,473.9 L1236.8,474.3 L1237.1,474.7 L1237.5,475.1 L1237.9,475.5 L1238.2,475.9 L1238.6,476.4 L1239.0,476.8 L1239.3,477.2 L1239.7,477.7 L1240.1,478.1 L1240.4,478.6 L1240.8,479.0 L1241.1,479.5 L1241.5,479.9 L1241.9,480.4 L1242.2,480.9 L1242.6,481.4 L1243.0,481.8 L1243.3,482.3 L1243.7,482.8 L1244.1,483.3 L1244.4,483.8 L1244.8,484.4 L1245.1,484.9 L1245.5,485.4 L1245.9,485.9 L1246.2,486.5 L1246.6,487.0 L1247.0,487.6 L1247.3,488.1 L1247.7,488.7 L1248.0,489.3 L1248.4,489.8 L1248.8,490.4 L1249.1,491.0 L1249.5,491.6 L1249.9,492.3 L1250.2,493.0 L1250.6,493.7 L1251.0,494.4 L1251.3,495.1 L1251.7,495.8 L1252.0,496.6 L1252.4,497.3 L1252.8,498.1 L1253.1,498.9 L1253.5,499.7 L1253.9,500.5 L1254.2,501.3 L1254.6,502.1 L1254.9,502.9 L1271.9,469.0" stroke="#00ff00" stroke-width="14" stroke-dasharray="14 11" stroke-dashoffset="22.0" stroke-linejoin="bevel"/>
<path d="M1271.9,457.9 L1272.0,457.9 L1272.1,457.8 L1272.2,457.8 L1272.3,457.8 L1272.4,457.7 L1272.6,457.7 L1272.7,457.6 L1272.8,457.6 L1272.9,457.6 L1273.0,457.5 L1273.1,457.5 L1273.2,457.5 L1273.3,457.4 L1273.5,457.4 L1273.6,457.3 L1273.7,457.3 L1273.8,457.3 L1273.9,457.2 L1274.0,457.2 L1274.1,457.2 L1274.2,457.1 L1274.4,457.1 L1274.5,457.1 L1274.6,457.0 L1274.7,457.0 L1274.8,456.9 L1274.9,456.9 L1275.0,456.9 L1275.1,456.8 L1275.3,456.8 L1275.4,456.8 L1275.5,456.7 L1275.6,456.7 L1275.7,456.7 L1275.8,456.6 L1275.9,456.6 L1276.0,456.6 L1276.2,456.5 L1276.3,456.5 L1276.4,456.4 L1276.5,456.4 L1276.6,456.4 L1276.7,456.3 L1276.8,456.3 L1276.9,456.3 L1277.1,456.2 L1277.2,456.2 L1277.3,456.2 L1277.4,456.1 L1277.5,456.1 L1277.6,456.1 L1277.7,456.0 L1277.8,456.0 L1278.0,456.0 L1278.1,455.9 L1278.2,455.9 L1278.3,455.9 L1278.4,455.8 L1278.5,455.8 L1278.6,455.8 L1278.7,455.7 L1278.9,455.7 L1279.0,455.7 L1279.1,455.6 L1279.2,455.6 L1279.3,455.6 L1279.4,455.5 L1279.5,455.5 L1279.6,455.5 L1279.8,455.4 L1279.9,455.4 L1280.0,455.4 L1280.1,455.4 L1280.2,455.3 L1280.3,455.3 L1280.4,455.3 L1280.5,455.2 L1280.7,455.2 L1280.8,455.2 L1280.9,455.1 L1281.0,455.1 L1281.1,455.1 L1281.2,455.1 L1281.3,455.0 L1281.4,455.0 L1281.6,455.0 L1281.7,454.9 L1281.8,454.9 L1281.9,454.9 L1282.0,454.8 L1282.1,454.8 L1282.2,454.8 L1282.3,454.8 L1282.5,454.7 L1282.6,454.7 L1282.7,454.7 L1282.8,454.6 L1282.9,454.6 L1283.0,454.6 L1283.1,454.6 L1283.2,454.5 L1283.4,454.5 L1283.5,454.5 L1283.6,454.4 L1283.7,454.4 L1283.8,454.4 L1283.9,454.4 L1284.0,454.3 L1284.1,454.3 L1284.3,454.3 L1284.4,454.3 L1284.5,454.2 L1284.6,454.2 L1284.7,454.2 L1284.8,454.1 L1284.9,454.1 L1285.0,454.1 L1285.2,454.1 L1285.3,454.0 L1285.4,454.0 L1285.5,454.0 L1285.6,453.9 L1285.7,453.9 L1285.8,453.9 L1285.9,453.9 L1286.1,453.8 L1286.2,453.8 L1286.3,453.8 L1286.4,453.8 L1286.5,453.7 L1286.6,453.7 L1286.7,453.7 L1286.8,453.7 L1287.0,453.6 L1287.1,453.6 L1287.2,453.6 L1287.3,453.6 L1287.4,453.5 L1287.5,453.5 L1287.6,453.5 L1287.7,453.4 L1287.9,453.4 L1288.0,453.4 L1288.1,453.4 L1288.2,453.3 L1288.3,453.3 L1288.4,453.3 L1288.5,453.3 L1288.6,453.2 L1288.8,453.2 L1288.9,453.2 L1289.0,453.2 L1289.1,453.1 L1289.2,453.1 L1289.3,453.1 L1289.4,453.1 L1289.5,453.0 L1289.7,453.0 L1289.8,453.0 L1289.9,453.0 L1290.0,453.0 L1290.1,452.9 L1290.2,452.9 L1290.3,452.9 L1290.4,452.9 L1290.6,452.8 L1290.7,452.8 L1290.8,452.8 L1290.9,452.8 L1291.0,452.7 L1291.1,452.7 L1291.2,452.7 L1291.3,452.7 L1291.5,452.6 L1291.6,452.6 L1291.7,452.6 L1291.8,452.6 L1291.9,452.6 L1292.0,452.5 L1292.1,452.5 L1292.2,452.5 L1292.4,452.5 L1292.5,452.4 L1292.6,452.4 L1292.7,452.4 L1292.8,452.4 L1292.9,452.4 L1293.0,452.3 L1293.1,452.3 L1293.3,452.3 L1293.4,452.3 L1293.5,452.3 L1293.6,452.2 L1293.7,452.2 L1293.8,452.2 L1293.9,452.2 L1294.0,452.2 L1294.2,452.1 L1294.3,452.1" stroke="#00ff00" stroke-width="14" stroke-dasharray="14 11" stroke-dashoffset="10.8" stroke-linejoin="bevel"/>
<path d="M914.3,413 V419.7 M914.3,432.5 V444.4" stroke="#00ff00" stroke-width="15"/>
<path d="M1004.2,168.2 V446.8" stroke="#00ff00" stroke-width="14.6"/>
<path d="M1093.8,182 V199.4 M1093.8,207 V224 M1093.8,232 V250 M1093.8,257 V274.7 M1093.8,282 V299.8 M1093.8,307 V325 M1093.8,332 V349.7 M1093.8,356.8 V374.8 M1093.8,382 V399.6 M1093.8,407 V424.7 M1093.8,432.5 V451.5 M1093.8,456.3 V470.6" stroke="#00ff00" stroke-width="14.6"/>
<path d="M1183.4,180 V187.7 M1183.4,198 V212.8 M1183.4,223.3 V237.9 M1183.4,248.4 V262.7 M1183.4,273.2 V287.8 M1183.4,298.3 V312.6 M1183.4,323.2 V337.7 M1183.4,348.2 V362.5 M1183.4,373 V388.7 M1183.4,398.2 V413.8 M1183.4,423 V438 M1183.4,447.6 V459.5" stroke="#00ff00" stroke-width="14.6"/>
<path d="M1273.0,187 V200.5 M1273.0,212 V225.6 M1273.0,237 V250.7 M1273.0,261.8 V275.5 M1273.0,287 V300.6 M1273.0,312 V325.4 M1273.0,336.8 V350.5 M1273.0,362 V375.3 M1273.0,386.7 V400.4 M1273.0,411.8 V425.6 M1273.0,437 V452.3 M1273.0,461.9 V477" stroke="#00ff00" stroke-width="14.6"/>
<path d="M997,181.4 h14.4 M997,205.6 h14.4 M997,230.7 h14.4 M997,256 h14.4 M1004,281 h7.4" stroke="#fff" stroke-width="0.6"/>
</g>
<rect x="244" y="21" width="863.0" height="78.0" fill="#fff" stroke="#161616" stroke-width="2" shape-rendering="crispEdges"/>
<path d="M270,60 H371" stroke="#ff0000" stroke-width="14"/>
<path d="M530,60 H631" stroke="#00ff00" stroke-width="14" stroke-dasharray="14 11"/>
<path d="M791,60 H842 M890.7,60 H892" stroke="#0000ff" stroke-width="14"/>
<text x="377.7" y="81" style="font-family:'Liberation Serif',serif;font-weight:bold;font-size:52.5px;letter-spacing:0.8px" fill="#000">q=0.3</text>
<text x="637.7" y="81" style="font-family:'Liberation Serif',serif;font-weight:bold;font-size:52.5px;letter-spacing:0.8px" fill="#000">q=0.6</text>
<text x="898.4" y="81" style="font-family:'Liberation Serif',serif;font-weight:bold;font-size:52.5px;letter-spacing:0.8px" fill="#000">q=0.9</text>
<text x="108.5" y="160.5" style="font-family:'Liberation Serif',serif;font-weight:bold;font-size:80px" fill="#262626">1.8</text>
<text x="175" y="471.5" style="font-family:'Liberation Serif',serif;font-weight:bold;font-size:80px" fill="#262626">1</text>
<text x="109" y="665.5" style="font-family:'Liberation Serif',serif;font-weight:bold;font-size:80px" fill="#262626">0.5</text>
<text x="176" y="859" style="font-family:'Liberation Serif',serif;font-weight:bold;font-size:80px" fill="#262626">0</text>
<text x="241" y="956" text-anchor="middle" style="font-family:'Liberation Serif',serif;font-weight:bold;font-size:80px" fill="#262626">0</text>
<text x="632.4" y="956" text-anchor="middle" style="font-family:'Liberation Serif',serif;font-weight:bold;font-size:80px" fill="#262626">10</text>
<text x="1025" y="956" text-anchor="middle" style="font-family:'Liberation Serif',serif;font-weight:bold;font-size:80px" fill="#262626">20</text>
<text x="897.5" y="195.8" text-anchor="end" style="font-family:'Liberation Sans',sans-serif;font-weight:bold;font-size:40.5px" fill="#262626">0.3</text>
<text x="897.5" y="292.5" text-anchor="end" style="font-family:'Liberation Sans',sans-serif;font-weight:bold;font-size:40.5px" fill="#262626">0.2</text>
<text x="897.5" y="389.1" text-anchor="end" style="font-family:'Liberation Sans',sans-serif;font-weight:bold;font-size:40.5px" fill="#262626">0.1</text>
<text x="897.5" y="485.8" text-anchor="end" style="font-family:'Liberation Sans',sans-serif;font-weight:bold;font-size:40.5px" fill="#262626">0</text>
<text x="914.5" y="559" text-anchor="middle" style="font-family:'Liberation Sans',sans-serif;font-weight:bold;font-size:40.5px" fill="#262626">0</text>
<text x="1057" y="559" text-anchor="middle" style="font-family:'Liberation Sans',sans-serif;font-weight:bold;font-size:40.5px" fill="#262626">10</text>
<text x="1198.5" y="559" text-anchor="middle" style="font-family:'Liberation Sans',sans-serif;font-weight:bold;font-size:40.5px" fill="#262626">20</text>
<text y="1050" fill="#262626" stroke="#fff" stroke-width="0.7" paint-order="fill stroke" style="font-family:'Liberation Serif',serif;font-style:italic;font-size:90px"><tspan x="607.9" textLength="60.7" lengthAdjust="spacingAndGlyphs">T</tspan><tspan x="674.1" textLength="31.8" lengthAdjust="spacingAndGlyphs">i</tspan><tspan x="703.9" textLength="81.9" lengthAdjust="spacingAndGlyphs">m</tspan><tspan x="789.1" textLength="34.4" lengthAdjust="spacingAndGlyphs">e</tspan><tspan x="829.3" textLength="28.1" lengthAdjust="spacingAndGlyphs" y="1051.4" style="font-style:normal;font-size:96.5px">(</tspan><tspan x="855.6" textLength="31.2" lengthAdjust="spacingAndGlyphs" y="1050">t</tspan><tspan x="893.9" textLength="26.6" lengthAdjust="spacingAndGlyphs" y="1051.4" style="font-style:normal;font-size:96.5px">)</tspan></text>
<text transform="translate(66.5,591) rotate(-90)" fill="#262626" stroke="#fff" stroke-width="0.7" paint-order="fill stroke" style="font-family:'Liberation Serif',serif;font-style:italic;font-size:90px"><tspan x="1.3" textLength="64.4" lengthAdjust="spacingAndGlyphs">E</tspan><tspan x="64.4" textLength="43.2" lengthAdjust="spacingAndGlyphs">r</tspan><tspan x="105.8" textLength="39.9" lengthAdjust="spacingAndGlyphs">r</tspan><tspan x="151.4" textLength="43.2" lengthAdjust="spacingAndGlyphs">o</tspan><tspan x="191.7" textLength="41.0" lengthAdjust="spacingAndGlyphs">r</tspan></text>
</svg>
</body></html>
